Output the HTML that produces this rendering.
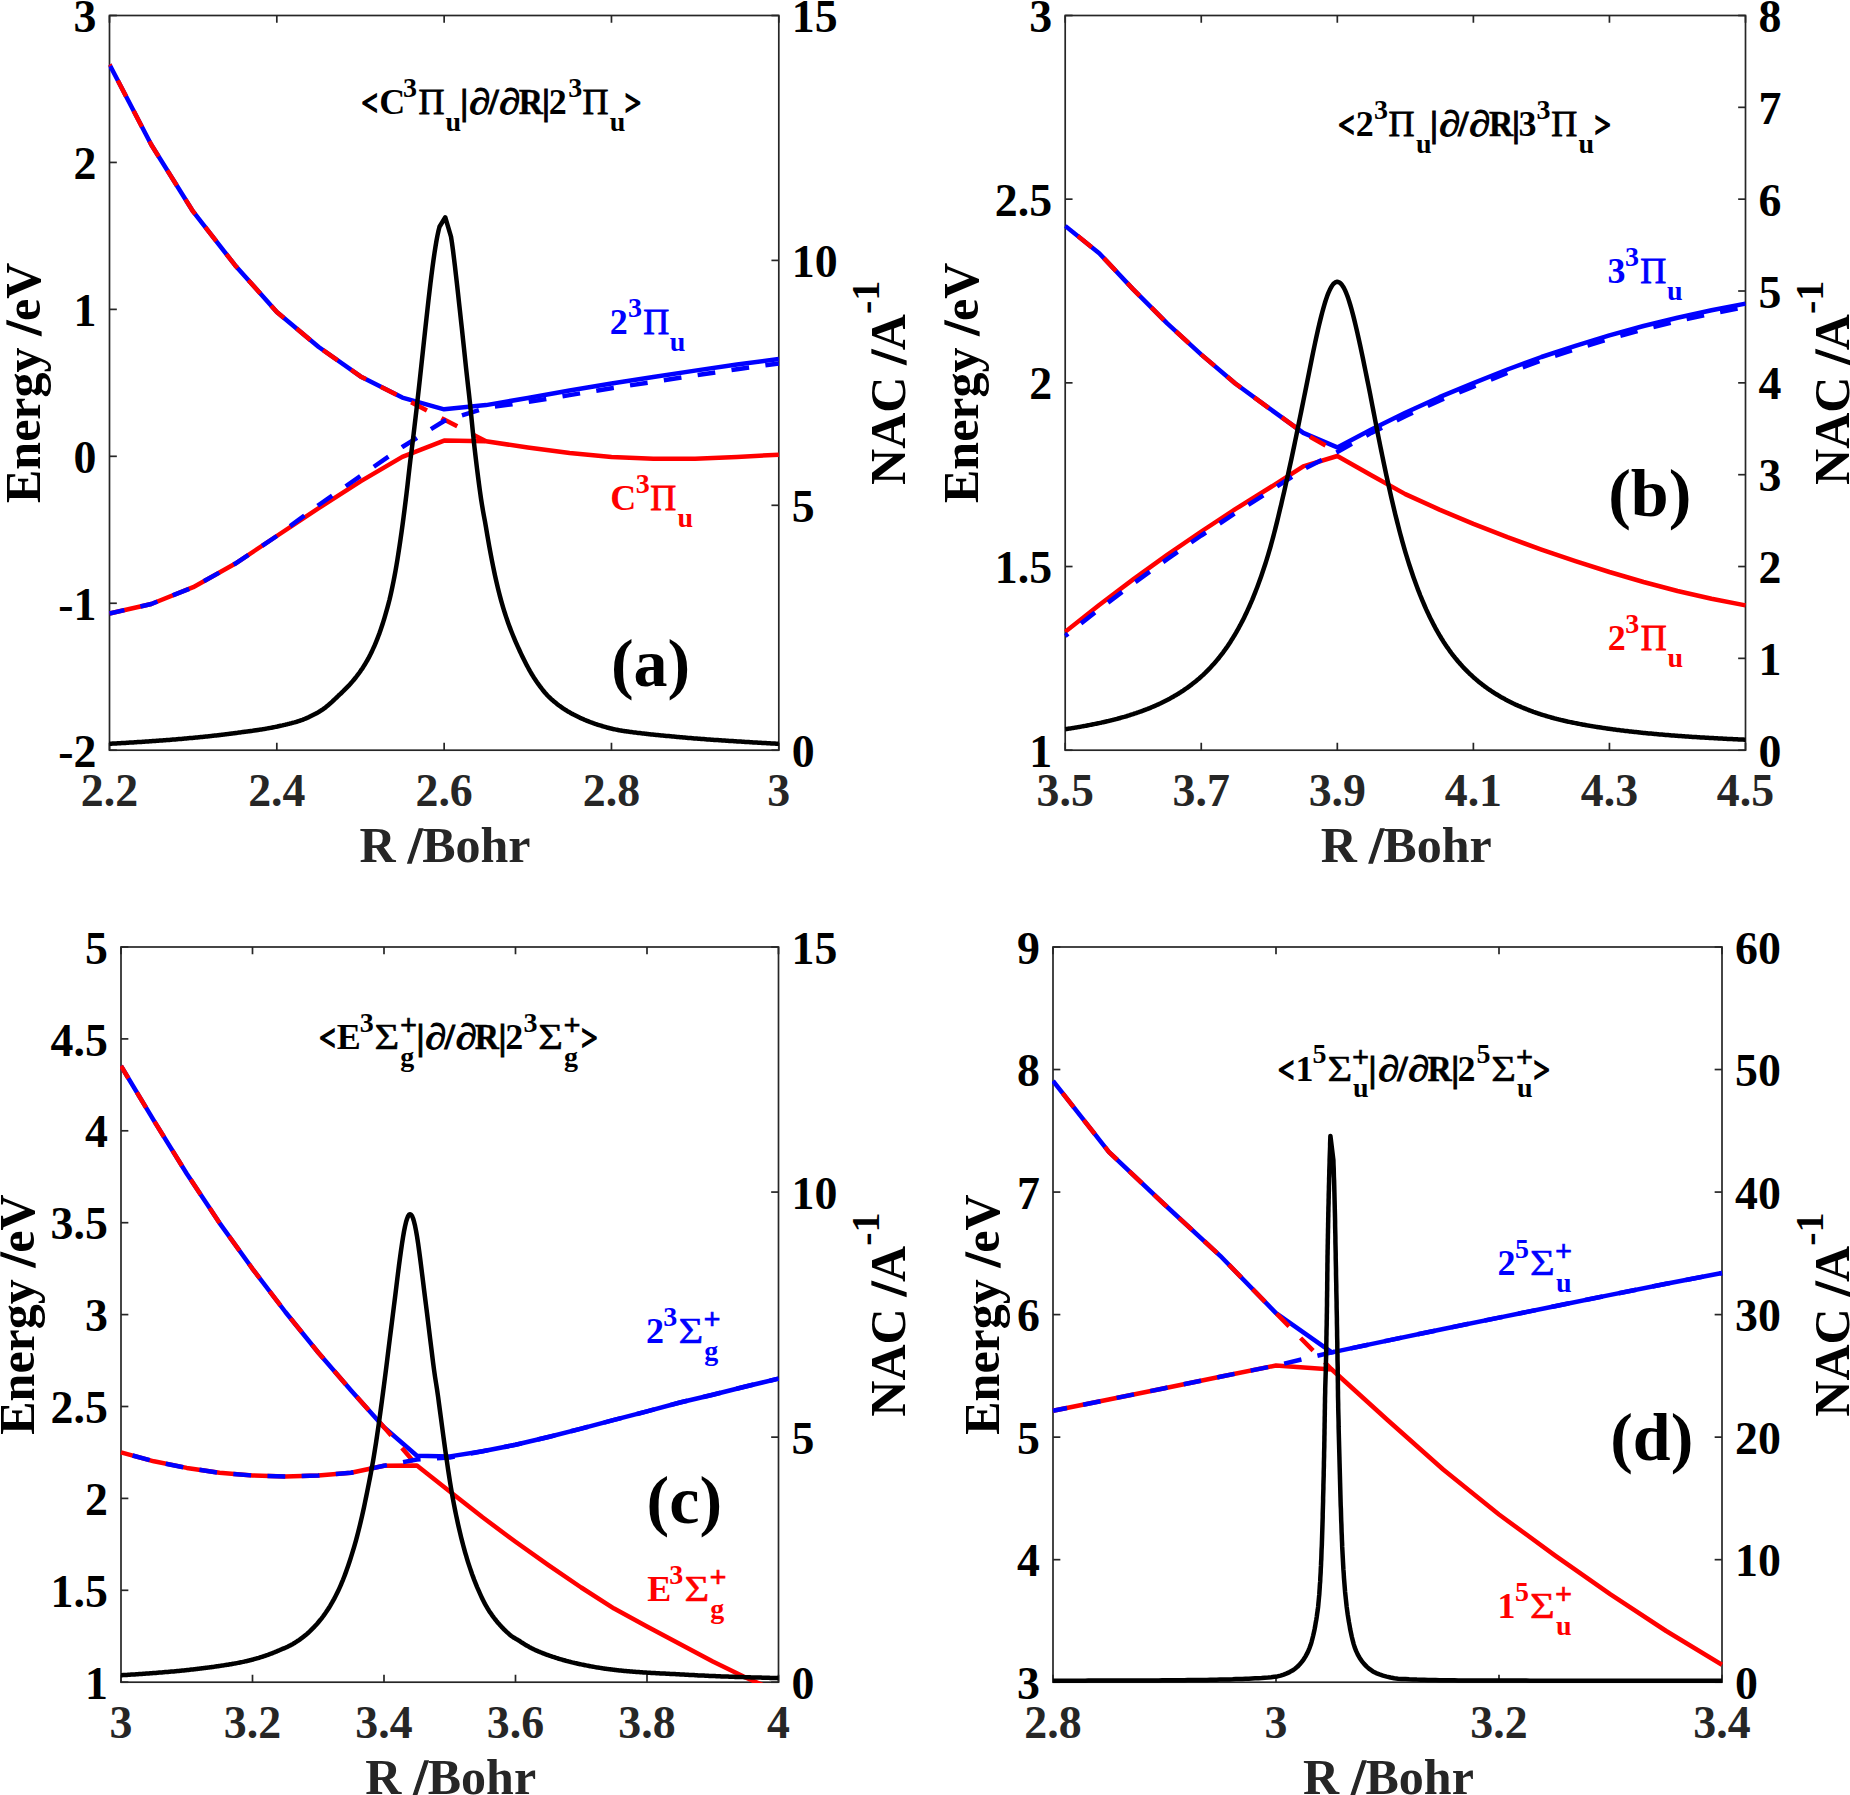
<!DOCTYPE html>
<html><head><meta charset="utf-8"><title>Potential energy curves and NAC</title>
<style>html,body{margin:0;padding:0;background:#fff}svg{display:block}text{font-family:"Liberation Serif",serif;white-space:pre}</style>
</head><body>
<svg xmlns="http://www.w3.org/2000/svg" width="1850" height="1795" viewBox="0 0 1850 1795">
<rect width="1850" height="1795" fill="#fff"/>
<clipPath id="clip0"><rect x="108.6" y="14.6" width="671.0999999999999" height="736.5"/></clipPath>
<g stroke="#262626" stroke-width="1.7" fill="none">
<rect x="109.5" y="15.5" width="669.3" height="734.7"/>
<path d="M109.50,750.2 v-7.35 M109.50,15.5 v7.35"/>
<path d="M276.82,750.2 v-7.35 M276.82,15.5 v7.35"/>
<path d="M444.15,750.2 v-7.35 M444.15,15.5 v7.35"/>
<path d="M611.47,750.2 v-7.35 M611.47,15.5 v7.35"/>
<path d="M778.80,750.2 v-7.35 M778.80,15.5 v7.35"/>
<path d="M109.5,750.20 h7.35"/>
<path d="M109.5,603.26 h7.35"/>
<path d="M109.5,456.32 h7.35"/>
<path d="M109.5,309.38 h7.35"/>
<path d="M109.5,162.44 h7.35"/>
<path d="M109.5,15.50 h7.35"/>
<path d="M778.8,750.20 h-7.35"/>
<path d="M778.8,505.30 h-7.35"/>
<path d="M778.8,260.40 h-7.35"/>
<path d="M778.8,15.50 h-7.35"/>
</g>
<g clip-path="url(#clip0)" fill="none" stroke-linejoin="round">
<path d="M109.5,64.6 L151.3,144.8 L193.2,211.7 L235.0,265.2 L276.8,312.0 L318.7,347.0 L360.5,376.4 L402.3,397.6 L444.1,409.3 L486.0,405.1 L527.8,398.0 L569.6,390.5 L611.5,383.5 L653.3,377.0 L695.1,370.6 L737.0,364.5 L778.8,359.0" stroke="#0000ff" stroke-width="4.5"/>
<path d="M109.5,613.5 L151.3,604.0 L193.2,587.2 L235.0,563.8 L276.8,536.0 L318.7,508.1 L360.5,481.4 L402.3,456.9 L444.1,440.6 L486.0,441.3 L527.8,447.5 L569.6,453.1 L611.5,456.9 L653.3,458.7 L695.1,458.7 L737.0,456.9 L778.8,454.7" stroke="#ff0000" stroke-width="4.5"/>
<path d="M109.5,64.6 L151.3,144.8 L193.2,211.7 L235.0,265.2 L276.8,312.0 L318.7,347.0 L360.5,376.4 L402.3,397.6 L444.1,419.5 L486.0,441.3" stroke="#ff0000" stroke-width="4.5" stroke-dasharray="17.8 16.4" stroke-dashoffset="16.2"/>
<path d="M109.5,613.5 L151.3,604.0 L193.2,587.2 L235.0,563.8 L276.8,536.0 L318.7,505.0 L360.5,476.0 L402.3,447.0 L444.1,421.0 L486.0,407.9 L527.8,402.0 L569.6,395.1 L611.5,388.2 L653.3,381.8 L695.1,375.4 L737.0,369.2 L778.8,363.5" stroke="#0000ff" stroke-width="4.5" stroke-dasharray="17.8 16.4" stroke-dashoffset="2.5"/>
</g>
<path d="M109.5,743.8 L110.5,743.7 L111.5,743.7 L112.5,743.6 L113.5,743.6 L114.5,743.5 L115.5,743.5 L116.5,743.4 L117.5,743.3 L118.5,743.3 L119.5,743.2 L120.5,743.2 L121.5,743.1 L122.5,743.1 L123.5,743.0 L124.5,742.9 L125.5,742.9 L126.5,742.8 L127.5,742.8 L128.5,742.7 L129.5,742.6 L130.5,742.6 L131.5,742.5 L132.5,742.5 L133.5,742.4 L134.5,742.3 L135.5,742.3 L136.5,742.2 L137.5,742.1 L138.5,742.1 L139.5,742.0 L140.5,741.9 L141.5,741.9 L142.5,741.8 L143.5,741.7 L144.5,741.7 L145.5,741.6 L146.5,741.5 L147.5,741.5 L148.5,741.4 L149.5,741.3 L150.5,741.3 L151.5,741.2 L152.5,741.1 L153.5,741.1 L154.5,741.0 L155.5,740.9 L156.5,740.8 L157.5,740.8 L158.5,740.7 L159.5,740.6 L160.5,740.6 L161.5,740.5 L162.5,740.4 L163.5,740.3 L164.5,740.2 L165.5,740.2 L166.5,740.1 L167.5,740.0 L168.5,739.9 L169.5,739.9 L170.5,739.8 L171.5,739.7 L172.5,739.6 L173.5,739.5 L174.5,739.5 L175.5,739.4 L176.5,739.3 L177.5,739.2 L178.5,739.1 L179.5,739.0 L180.5,738.9 L181.5,738.9 L182.5,738.8 L183.5,738.7 L184.5,738.6 L185.5,738.5 L186.5,738.4 L187.5,738.3 L188.5,738.2 L189.5,738.1 L190.5,738.0 L191.5,738.0 L192.5,737.9 L193.5,737.8 L194.5,737.7 L195.5,737.6 L196.5,737.5 L197.5,737.4 L198.5,737.3 L199.5,737.2 L200.5,737.1 L201.5,737.0 L202.5,736.9 L203.5,736.8 L204.5,736.7 L205.5,736.6 L206.5,736.5 L207.5,736.4 L208.5,736.3 L209.5,736.2 L210.5,736.1 L211.5,735.9 L212.5,735.8 L213.5,735.7 L214.5,735.6 L215.5,735.5 L216.5,735.4 L217.5,735.3 L218.5,735.2 L219.5,735.0 L220.5,734.9 L221.5,734.8 L222.5,734.7 L223.5,734.6 L224.5,734.4 L225.5,734.3 L226.5,734.2 L227.5,734.1 L228.5,733.9 L229.5,733.8 L230.5,733.7 L231.5,733.5 L232.5,733.4 L233.5,733.3 L234.5,733.2 L235.5,733.0 L236.5,732.9 L237.5,732.8 L238.5,732.6 L239.5,732.5 L240.5,732.4 L241.5,732.2 L242.5,732.1 L243.5,732.0 L244.5,731.8 L245.5,731.7 L246.5,731.6 L247.5,731.4 L248.5,731.3 L249.5,731.2 L250.5,731.0 L251.5,730.9 L252.5,730.8 L253.5,730.6 L254.5,730.5 L255.5,730.3 L256.5,730.2 L257.5,730.0 L258.5,729.9 L259.5,729.7 L260.5,729.6 L261.5,729.4 L262.5,729.3 L263.5,729.1 L264.5,728.9 L265.5,728.8 L266.5,728.6 L267.5,728.4 L268.5,728.2 L269.5,728.1 L270.5,727.9 L271.5,727.7 L272.5,727.5 L273.5,727.3 L274.5,727.1 L275.5,726.9 L276.5,726.7 L277.5,726.5 L278.5,726.2 L279.5,726.0 L280.5,725.8 L281.5,725.6 L282.5,725.4 L283.5,725.1 L284.5,724.9 L285.5,724.7 L286.5,724.4 L287.5,724.2 L288.5,723.9 L289.5,723.7 L290.5,723.4 L291.5,723.2 L292.5,722.9 L293.5,722.6 L294.5,722.4 L295.5,722.1 L296.5,721.8 L297.5,721.5 L298.5,721.1 L299.5,720.8 L300.5,720.5 L301.5,720.1 L302.5,719.8 L303.5,719.4 L304.5,719.0 L305.5,718.6 L306.5,718.2 L307.5,717.7 L308.5,717.3 L309.5,716.8 L310.5,716.3 L311.5,715.8 L312.5,715.3 L313.5,714.8 L314.5,714.3 L315.5,713.8 L316.5,713.2 L317.5,712.7 L318.5,712.1 L319.5,711.5 L320.5,710.9 L321.5,710.2 L322.5,709.6 L323.5,708.9 L324.5,708.2 L325.5,707.4 L326.5,706.6 L327.5,705.8 L328.5,704.9 L329.5,704.1 L330.5,703.2 L331.5,702.3 L332.5,701.4 L333.5,700.4 L334.5,699.5 L335.5,698.5 L336.5,697.6 L337.5,696.6 L338.5,695.7 L339.5,694.7 L340.5,693.8 L341.5,692.8 L342.5,691.8 L343.5,690.9 L344.5,689.9 L345.5,688.9 L346.5,687.9 L347.5,686.9 L348.5,685.8 L349.5,684.8 L350.5,683.7 L351.5,682.6 L352.5,681.4 L353.5,680.2 L354.5,679.0 L355.5,677.8 L356.5,676.5 L357.5,675.2 L358.5,673.8 L359.5,672.5 L360.5,671.1 L361.5,669.6 L362.5,668.2 L363.5,666.6 L364.5,665.1 L365.5,663.4 L366.5,661.7 L367.5,660.0 L368.5,658.2 L369.5,656.2 L370.5,654.3 L371.5,652.2 L372.5,650.1 L373.5,647.9 L374.5,645.7 L375.5,643.3 L376.5,640.9 L377.5,638.4 L378.5,635.8 L379.5,633.1 L380.5,630.2 L381.5,627.3 L382.5,624.2 L383.5,621.1 L384.5,617.8 L385.5,614.4 L386.5,610.9 L387.5,607.3 L388.5,603.6 L389.5,599.7 L390.5,595.4 L391.5,591.0 L392.5,586.3 L393.5,581.4 L394.5,576.3 L395.5,570.9 L396.5,565.2 L397.5,559.1 L398.5,552.7 L399.5,546.1 L400.5,539.4 L401.5,532.4 L402.5,525.1 L403.5,517.6 L404.5,509.9 L405.5,501.9 L406.5,493.7 L407.5,485.2 L408.5,476.2 L409.5,467.4 L410.5,459.1 L411.5,451.3 L412.5,443.2 L413.5,435.0 L414.5,426.6 L415.5,418.1 L416.5,409.4 L417.5,400.5 L418.5,391.6 L419.5,382.5 L420.5,373.3 L421.5,364.1 L422.5,354.8 L423.5,345.6 L424.5,336.3 L425.5,327.1 L426.5,318.0 L427.5,309.0 L428.5,300.1 L429.5,291.5 L430.5,283.1 L431.5,275.0 L432.5,267.3 L433.5,259.9 L434.5,253.0 L435.5,246.6 L436.5,240.7 L437.5,235.4 L438.5,230.7 L439.5,226.7 L445.3,217.3 L451.0,236.7 L452.0,243.1 L453.0,250.4 L454.0,258.5 L455.0,266.8 L456.0,275.4 L457.0,284.2 L458.0,293.2 L459.0,302.4 L460.0,311.5 L461.0,320.7 L462.0,329.8 L463.0,339.2 L464.0,348.6 L465.0,358.0 L466.0,367.4 L467.0,376.6 L468.0,385.5 L469.0,394.3 L470.0,403.5 L471.0,413.2 L472.0,423.3 L473.0,433.4 L474.0,443.0 L475.0,451.8 L476.0,460.3 L477.0,468.5 L478.0,476.4 L479.0,484.1 L480.0,491.5 L481.0,498.6 L482.0,504.9 L483.0,510.8 L484.0,516.3 L485.0,521.7 L486.0,527.4 L487.0,533.3 L488.0,539.2 L489.0,544.8 L490.0,550.4 L491.0,555.7 L492.0,560.9 L493.0,565.9 L494.0,570.8 L495.0,575.4 L496.0,580.0 L497.0,584.3 L498.0,588.5 L499.0,592.5 L500.0,596.4 L501.0,600.1 L502.0,603.6 L503.0,607.1 L504.0,610.4 L505.0,613.5 L506.0,616.6 L507.0,619.5 L508.0,622.4 L509.0,625.2 L510.0,627.9 L511.0,630.5 L512.0,633.0 L513.0,635.5 L514.0,637.9 L515.0,640.3 L516.0,642.6 L517.0,644.9 L518.0,647.1 L519.0,649.3 L520.0,651.5 L521.0,653.6 L522.0,655.7 L523.0,657.8 L524.0,659.8 L525.0,661.8 L526.0,663.8 L527.0,665.7 L528.0,667.5 L529.0,669.3 L530.0,671.1 L531.0,672.8 L532.0,674.5 L533.0,676.1 L534.0,677.7 L535.0,679.2 L536.0,680.7 L537.0,682.2 L538.0,683.6 L539.0,685.0 L540.0,686.4 L541.0,687.7 L542.0,689.0 L543.0,690.3 L544.0,691.5 L545.0,692.7 L546.0,693.8 L547.0,694.9 L548.0,696.0 L549.0,697.0 L550.0,697.9 L551.0,698.9 L552.0,699.8 L553.0,700.6 L554.0,701.5 L555.0,702.3 L556.0,703.1 L557.0,703.9 L558.0,704.7 L559.0,705.5 L560.0,706.2 L561.0,706.9 L562.0,707.6 L563.0,708.3 L564.0,709.0 L565.0,709.6 L566.0,710.2 L567.0,710.9 L568.0,711.5 L569.0,712.1 L570.0,712.6 L571.0,713.2 L572.0,713.7 L573.0,714.3 L574.0,714.8 L575.0,715.3 L576.0,715.8 L577.0,716.3 L578.0,716.8 L579.0,717.3 L580.0,717.8 L581.0,718.2 L582.0,718.7 L583.0,719.1 L584.0,719.6 L585.0,720.0 L586.0,720.4 L587.0,720.8 L588.0,721.2 L589.0,721.6 L590.0,722.0 L591.0,722.4 L592.0,722.7 L593.0,723.1 L594.0,723.4 L595.0,723.8 L596.0,724.1 L597.0,724.5 L598.0,724.8 L599.0,725.1 L600.0,725.4 L601.0,725.7 L602.0,726.0 L603.0,726.3 L604.0,726.6 L605.0,726.9 L606.0,727.2 L607.0,727.5 L608.0,727.7 L609.0,728.0 L610.0,728.3 L611.0,728.5 L612.0,728.7 L613.0,729.0 L614.0,729.2 L615.0,729.4 L616.0,729.6 L617.0,729.8 L618.0,730.0 L619.0,730.2 L620.0,730.4 L621.0,730.5 L622.0,730.7 L623.0,730.9 L624.0,731.0 L625.0,731.2 L626.0,731.3 L627.0,731.5 L628.0,731.6 L629.0,731.7 L630.0,731.9 L631.0,732.0 L632.0,732.1 L633.0,732.3 L634.0,732.4 L635.0,732.5 L636.0,732.6 L637.0,732.8 L638.0,732.9 L639.0,733.0 L640.0,733.1 L641.0,733.2 L642.0,733.4 L643.0,733.5 L644.0,733.6 L645.0,733.7 L646.0,733.8 L647.0,734.0 L648.0,734.1 L649.0,734.2 L650.0,734.3 L651.0,734.4 L652.0,734.5 L653.0,734.6 L654.0,734.7 L655.0,734.8 L656.0,734.9 L657.0,735.0 L658.0,735.1 L659.0,735.2 L660.0,735.3 L661.0,735.4 L662.0,735.5 L663.0,735.6 L664.0,735.7 L665.0,735.8 L666.0,735.9 L667.0,736.0 L668.0,736.0 L669.0,736.1 L670.0,736.2 L671.0,736.3 L672.0,736.4 L673.0,736.5 L674.0,736.6 L675.0,736.7 L676.0,736.8 L677.0,736.9 L678.0,737.0 L679.0,737.1 L680.0,737.2 L681.0,737.2 L682.0,737.3 L683.0,737.4 L684.0,737.5 L685.0,737.6 L686.0,737.7 L687.0,737.8 L688.0,737.9 L689.0,738.0 L690.0,738.0 L691.0,738.1 L692.0,738.2 L693.0,738.3 L694.0,738.4 L695.0,738.5 L696.0,738.5 L697.0,738.6 L698.0,738.7 L699.0,738.8 L700.0,738.8 L701.0,738.9 L702.0,739.0 L703.0,739.1 L704.0,739.1 L705.0,739.2 L706.0,739.3 L707.0,739.4 L708.0,739.4 L709.0,739.5 L710.0,739.6 L711.0,739.7 L712.0,739.7 L713.0,739.8 L714.0,739.9 L715.0,739.9 L716.0,740.0 L717.0,740.1 L718.0,740.1 L719.0,740.2 L720.0,740.3 L721.0,740.3 L722.0,740.4 L723.0,740.5 L724.0,740.5 L725.0,740.6 L726.0,740.7 L727.0,740.7 L728.0,740.8 L729.0,740.9 L730.0,740.9 L731.0,741.0 L732.0,741.1 L733.0,741.1 L734.0,741.2 L735.0,741.2 L736.0,741.3 L737.0,741.4 L738.0,741.4 L739.0,741.5 L740.0,741.6 L741.0,741.6 L742.0,741.7 L743.0,741.7 L744.0,741.8 L745.0,741.9 L746.0,741.9 L747.0,742.0 L748.0,742.0 L749.0,742.1 L750.0,742.2 L751.0,742.2 L752.0,742.3 L753.0,742.4 L754.0,742.4 L755.0,742.5 L756.0,742.5 L757.0,742.6 L758.0,742.7 L759.0,742.7 L760.0,742.8 L761.0,742.8 L762.0,742.9 L763.0,742.9 L764.0,743.0 L765.0,743.1 L766.0,743.1 L767.0,743.2 L768.0,743.2 L769.0,743.3 L770.0,743.3 L771.0,743.4 L772.0,743.5 L773.0,743.5 L774.0,743.6 L775.0,743.6 L776.0,743.7 L777.0,743.7 L778.0,743.8 L778.8,743.8" fill="none" stroke="#000" stroke-width="4.5" stroke-linejoin="round" clip-path="url(#clip0)"/>
<text x="109.50" y="805.80" font-size="45.83" font-weight="bold" fill="#262626" text-anchor="middle" >2.2</text>
<text x="276.82" y="805.80" font-size="45.83" font-weight="bold" fill="#262626" text-anchor="middle" >2.4</text>
<text x="444.15" y="805.80" font-size="45.83" font-weight="bold" fill="#262626" text-anchor="middle" >2.6</text>
<text x="611.47" y="805.80" font-size="45.83" font-weight="bold" fill="#262626" text-anchor="middle" >2.8</text>
<text x="778.80" y="805.80" font-size="45.83" font-weight="bold" fill="#262626" text-anchor="middle" >3</text>
<text x="96.40" y="766.80" font-size="45.83" font-weight="bold" fill="#000" text-anchor="end" >-2</text>
<text x="96.40" y="619.86" font-size="45.83" font-weight="bold" fill="#000" text-anchor="end" >-1</text>
<text x="96.40" y="472.92" font-size="45.83" font-weight="bold" fill="#000" text-anchor="end" >0</text>
<text x="96.40" y="325.98" font-size="45.83" font-weight="bold" fill="#000" text-anchor="end" >1</text>
<text x="96.40" y="179.04" font-size="45.83" font-weight="bold" fill="#000" text-anchor="end" >2</text>
<text x="96.40" y="32.10" font-size="45.83" font-weight="bold" fill="#000" text-anchor="end" >3</text>
<text x="791.80" y="766.80" font-size="45.83" font-weight="bold" fill="#000" text-anchor="start" >0</text>
<text x="791.80" y="521.90" font-size="45.83" font-weight="bold" fill="#000" text-anchor="start" >5</text>
<text x="791.80" y="277.00" font-size="45.83" font-weight="bold" fill="#000" text-anchor="start" >10</text>
<text x="791.80" y="32.10" font-size="45.83" font-weight="bold" fill="#000" text-anchor="start" >15</text>
<text x="445.05" y="862.20" font-size="50" font-weight="bold" fill="#262626" text-anchor="middle" >R <tspan stroke="#262626" stroke-width="1.3">/</tspan>Bohr</text>
<text transform="translate(40.400000000000006,382.85) rotate(-90)" font-size="50" font-weight="bold" fill="#000" text-anchor="middle">Energy <tspan stroke="#000" stroke-width="1.3">/</tspan>eV</text>
<text transform="translate(905.4,382.85) rotate(-90)" font-size="50" font-weight="bold" fill="#000" text-anchor="middle">NAC <tspan stroke="#000" stroke-width="1.3">/</tspan>A<tspan font-size="40" dy="-26">-1</tspan></text>
<text x="610.90" y="686.40" font-size="68" font-weight="bold" fill="#000" text-anchor="start" >(a)</text>
<text transform="translate(361.42 114.80) scale(0.8 1)" font-size="36" font-weight="bold" fill="#000" stroke="#000" stroke-width="1.5" stroke-linejoin="miter">&lt;</text>
<text x="379.24" y="113.80" font-size="36" font-weight="bold" fill="#000">C</text>
<text x="403.05" y="96.50" font-size="28" font-weight="bold" fill="#000">3</text>
<text x="418.46" y="113.80" font-size="36" font-weight="normal" fill="#000" stroke="#000" stroke-width="0.8" stroke-linejoin="miter">Π</text>
<text x="445.38" y="130.60" font-size="28" font-weight="bold" fill="#000">u</text>
<text x="460.29" y="113.80" font-size="36" font-weight="bold" fill="#000" stroke="#000" stroke-width="1.0" stroke-linejoin="miter">|</text>
<text transform="translate(469.34 113.80) scale(1.18 1)" font-size="36" font-weight="normal" font-style="italic" fill="#000" stroke="#000" stroke-width="1.1" stroke-linejoin="miter">∂</text>
<text x="488.45" y="113.80" font-size="36" font-weight="bold" fill="#000" stroke="#000" stroke-width="1.0" stroke-linejoin="miter">/</text>
<text transform="translate(499.14 113.80) scale(1.18 1)" font-size="36" font-weight="normal" font-style="italic" fill="#000" stroke="#000" stroke-width="1.1" stroke-linejoin="miter">∂</text>
<text transform="translate(518.78 113.80) scale(0.93 1)" font-size="36" font-weight="bold" fill="#000" stroke="#000" stroke-width="0.5" stroke-linejoin="miter">R</text>
<text x="541.99" y="113.80" font-size="36" font-weight="bold" fill="#000" stroke="#000" stroke-width="1.0" stroke-linejoin="miter">|</text>
<text x="548.69" y="113.80" font-size="36" font-weight="bold" fill="#000">2</text>
<text x="568.15" y="96.50" font-size="28" font-weight="bold" fill="#000">3</text>
<text x="582.46" y="113.80" font-size="36" font-weight="normal" fill="#000" stroke="#000" stroke-width="0.8" stroke-linejoin="miter">Π</text>
<text x="609.78" y="130.60" font-size="28" font-weight="bold" fill="#000">u</text>
<text transform="translate(624.79 114.80) scale(0.8 1)" font-size="36" font-weight="bold" fill="#000" stroke="#000" stroke-width="1.5" stroke-linejoin="miter">&gt;</text>
<text x="609.69" y="333.80" font-size="36" font-weight="bold" fill="#0000ff">2</text>
<text x="628.05" y="316.50" font-size="28" font-weight="bold" fill="#0000ff">3</text>
<text x="643.36" y="333.80" font-size="36" font-weight="normal" fill="#0000ff" stroke="#0000ff" stroke-width="0.8" stroke-linejoin="miter">Π</text>
<text x="669.78" y="350.60" font-size="28" font-weight="bold" fill="#0000ff">u</text>
<text x="610.24" y="510.10" font-size="36" font-weight="bold" fill="#ff0000">C</text>
<text x="635.85" y="492.80" font-size="28" font-weight="bold" fill="#ff0000">3</text>
<text x="650.36" y="510.10" font-size="36" font-weight="normal" fill="#ff0000" stroke="#ff0000" stroke-width="0.8" stroke-linejoin="miter">Π</text>
<text x="677.58" y="526.90" font-size="28" font-weight="bold" fill="#ff0000">u</text>
<clipPath id="clip1"><rect x="1064.3" y="14.6" width="682.0999999999999" height="736.5"/></clipPath>
<g stroke="#262626" stroke-width="1.7" fill="none">
<rect x="1065.2" y="15.5" width="680.3" height="734.7"/>
<path d="M1065.20,750.2 v-7.35 M1065.20,15.5 v7.35"/>
<path d="M1201.26,750.2 v-7.35 M1201.26,15.5 v7.35"/>
<path d="M1337.32,750.2 v-7.35 M1337.32,15.5 v7.35"/>
<path d="M1473.38,750.2 v-7.35 M1473.38,15.5 v7.35"/>
<path d="M1609.44,750.2 v-7.35 M1609.44,15.5 v7.35"/>
<path d="M1745.50,750.2 v-7.35 M1745.50,15.5 v7.35"/>
<path d="M1065.2,750.20 h7.35"/>
<path d="M1065.2,566.53 h7.35"/>
<path d="M1065.2,382.85 h7.35"/>
<path d="M1065.2,199.17 h7.35"/>
<path d="M1065.2,15.50 h7.35"/>
<path d="M1745.5,750.20 h-7.35"/>
<path d="M1745.5,658.36 h-7.35"/>
<path d="M1745.5,566.53 h-7.35"/>
<path d="M1745.5,474.69 h-7.35"/>
<path d="M1745.5,382.85 h-7.35"/>
<path d="M1745.5,291.01 h-7.35"/>
<path d="M1745.5,199.17 h-7.35"/>
<path d="M1745.5,107.34 h-7.35"/>
<path d="M1745.5,15.50 h-7.35"/>
</g>
<g clip-path="url(#clip1)" fill="none" stroke-linejoin="round">
<path d="M1065.2,225.9 L1099.2,253.2 L1133.2,289.4 L1167.2,323.4 L1201.3,354.6 L1235.3,383.5 L1269.3,408.4 L1303.3,432.9 L1337.3,447.4 L1371.3,429.5 L1405.3,412.8 L1439.4,397.2 L1473.4,383.2 L1507.4,369.5 L1541.4,357.0 L1575.4,345.8 L1609.4,335.4 L1643.5,326.0 L1677.5,317.7 L1711.5,310.3 L1745.5,303.6" stroke="#0000ff" stroke-width="4.5"/>
<path d="M1065.2,631.8 L1099.2,605.0 L1133.2,579.4 L1167.2,554.9 L1201.3,531.5 L1235.3,509.2 L1269.3,488.0 L1303.3,466.4 L1337.3,456.0 L1371.3,475.2 L1405.3,494.1 L1439.4,509.6 L1473.4,523.9 L1507.4,537.2 L1541.4,549.6 L1575.4,561.2 L1609.4,572.0 L1643.5,582.0 L1677.5,591.0 L1711.5,598.8 L1745.5,605.4" stroke="#ff0000" stroke-width="4.5"/>
<path d="M1065.2,225.9 L1099.2,253.2 L1133.2,289.4 L1167.2,323.4 L1201.3,354.6 L1235.3,383.5 L1269.3,408.4 L1303.3,432.9 L1337.3,452.0" stroke="#ff0000" stroke-width="4.5" stroke-dasharray="17.8 16.4" stroke-dashoffset="18.0"/>
<path d="M1065.2,636.0 L1099.2,609.2 L1133.2,583.6 L1167.2,559.1 L1201.3,535.5 L1235.3,513.2 L1269.3,491.5 L1303.3,469.4 L1337.3,452.0 L1371.3,432.9 L1405.3,416.2 L1439.4,400.6 L1473.4,386.6 L1507.4,372.9 L1541.4,360.4 L1575.4,349.2 L1609.4,338.8 L1643.5,329.4 L1677.5,321.1 L1711.5,313.7 L1745.5,307.0" stroke="#0000ff" stroke-width="4.5" stroke-dasharray="17.8 16.4" stroke-dashoffset="14.1"/>
</g>
<path d="M1065.2,729.2 L1066.2,729.0 L1067.2,728.9 L1068.2,728.7 L1069.2,728.6 L1070.2,728.4 L1071.2,728.3 L1072.2,728.1 L1073.2,727.9 L1074.2,727.8 L1075.2,727.6 L1076.2,727.4 L1077.2,727.3 L1078.2,727.1 L1079.2,726.9 L1080.2,726.8 L1081.2,726.6 L1082.2,726.4 L1083.2,726.2 L1084.2,726.1 L1085.2,725.9 L1086.2,725.7 L1087.2,725.5 L1088.2,725.3 L1089.2,725.1 L1090.2,724.9 L1091.2,724.7 L1092.2,724.5 L1093.2,724.3 L1094.2,724.1 L1095.2,723.9 L1096.2,723.7 L1097.2,723.5 L1098.2,723.3 L1099.2,723.1 L1100.2,722.9 L1101.2,722.7 L1102.2,722.4 L1103.2,722.2 L1104.2,722.0 L1105.2,721.8 L1106.2,721.5 L1107.2,721.3 L1108.2,721.1 L1109.2,720.8 L1110.2,720.6 L1111.2,720.3 L1112.2,720.1 L1113.2,719.8 L1114.2,719.6 L1115.2,719.3 L1116.2,719.1 L1117.2,718.8 L1118.2,718.5 L1119.2,718.3 L1120.2,718.0 L1121.2,717.7 L1122.2,717.4 L1123.2,717.1 L1124.2,716.9 L1125.2,716.6 L1126.2,716.3 L1127.2,716.0 L1128.2,715.7 L1129.2,715.4 L1130.2,715.0 L1131.2,714.7 L1132.2,714.4 L1133.2,714.1 L1134.2,713.7 L1135.2,713.4 L1136.2,713.1 L1137.2,712.7 L1138.2,712.4 L1139.2,712.0 L1140.2,711.7 L1141.2,711.3 L1142.2,711.0 L1143.2,710.6 L1144.2,710.2 L1145.2,709.8 L1146.2,709.4 L1147.2,709.1 L1148.2,708.7 L1149.2,708.3 L1150.2,707.9 L1151.2,707.4 L1152.2,707.0 L1153.2,706.6 L1154.2,706.2 L1155.2,705.7 L1156.2,705.3 L1157.2,704.8 L1158.2,704.4 L1159.2,703.9 L1160.2,703.5 L1161.2,703.0 L1162.2,702.5 L1163.2,702.0 L1164.2,701.5 L1165.2,701.0 L1166.2,700.5 L1167.2,700.0 L1168.2,699.5 L1169.2,698.9 L1170.2,698.4 L1171.2,697.8 L1172.2,697.3 L1173.2,696.7 L1174.2,696.1 L1175.2,695.6 L1176.2,695.0 L1177.2,694.4 L1178.2,693.8 L1179.2,693.1 L1180.2,692.5 L1181.2,691.9 L1182.2,691.2 L1183.2,690.6 L1184.2,689.9 L1185.2,689.2 L1186.2,688.5 L1187.2,687.8 L1188.2,687.1 L1189.2,686.4 L1190.2,685.6 L1191.2,684.9 L1192.2,684.1 L1193.2,683.3 L1194.2,682.5 L1195.2,681.7 L1196.2,680.9 L1197.2,680.1 L1198.2,679.2 L1199.2,678.4 L1200.2,677.5 L1201.2,676.6 L1202.2,675.7 L1203.2,674.8 L1204.2,673.8 L1205.2,672.9 L1206.2,671.9 L1207.2,670.9 L1208.2,669.9 L1209.2,668.8 L1210.2,667.8 L1211.2,666.7 L1212.2,665.6 L1213.2,664.5 L1214.2,663.4 L1215.2,662.3 L1216.2,661.1 L1217.2,659.9 L1218.2,658.7 L1219.2,657.5 L1220.2,656.2 L1221.2,654.9 L1222.2,653.6 L1223.2,652.3 L1224.2,650.9 L1225.2,649.5 L1226.2,648.1 L1227.2,646.7 L1228.2,645.2 L1229.2,643.7 L1230.2,642.2 L1231.2,640.6 L1232.2,639.1 L1233.2,637.4 L1234.2,635.8 L1235.2,634.1 L1236.2,632.4 L1237.2,630.6 L1238.2,628.9 L1239.2,627.0 L1240.2,625.2 L1241.2,623.3 L1242.2,621.4 L1243.2,619.4 L1244.2,617.4 L1245.2,615.3 L1246.2,613.2 L1247.2,611.1 L1248.2,608.9 L1249.2,606.7 L1250.2,604.4 L1251.2,602.1 L1252.2,599.8 L1253.2,597.3 L1254.2,594.9 L1255.2,592.4 L1256.2,589.8 L1257.2,587.2 L1258.2,584.5 L1259.2,581.8 L1260.2,579.0 L1261.2,576.2 L1262.2,573.3 L1263.2,570.3 L1264.2,567.3 L1265.2,564.2 L1266.2,561.1 L1267.2,557.9 L1268.2,554.6 L1269.2,551.2 L1270.2,547.8 L1271.2,544.2 L1272.2,540.5 L1273.2,536.8 L1274.2,533.0 L1275.2,529.1 L1276.2,525.1 L1277.2,521.1 L1278.2,517.0 L1279.2,512.8 L1280.2,508.6 L1281.2,504.4 L1282.2,500.1 L1283.2,495.8 L1284.2,491.4 L1285.2,487.0 L1286.2,482.6 L1287.2,478.2 L1288.2,473.7 L1289.2,469.1 L1290.2,464.5 L1291.2,459.9 L1292.2,455.2 L1293.2,450.5 L1294.2,445.7 L1295.2,440.9 L1296.2,436.1 L1297.2,431.2 L1298.2,426.2 L1299.2,421.3 L1300.2,416.4 L1301.2,411.5 L1302.2,406.5 L1303.2,401.6 L1304.2,396.6 L1305.2,391.7 L1306.2,386.7 L1307.2,381.7 L1308.2,376.7 L1309.2,371.7 L1310.2,366.7 L1311.2,361.7 L1312.2,356.8 L1313.2,351.9 L1314.2,347.1 L1315.2,342.4 L1316.2,337.8 L1317.2,333.3 L1318.2,328.8 L1319.2,324.5 L1320.2,320.4 L1321.2,316.4 L1322.2,312.5 L1323.2,308.8 L1324.2,305.3 L1325.2,302.0 L1326.2,298.9 L1327.2,296.1 L1328.2,293.4 L1329.2,291.1 L1330.2,289.0 L1331.2,287.1 L1332.2,285.5 L1333.2,284.2 L1334.2,283.2 L1335.2,282.4 L1336.2,282.0 L1337.2,281.8 L1337.3,281.8 L1338.3,281.9 L1339.3,282.4 L1340.3,283.1 L1341.3,284.1 L1342.3,285.4 L1343.3,286.9 L1344.3,288.8 L1345.3,290.8 L1346.3,293.2 L1347.3,295.8 L1348.3,298.6 L1349.3,301.7 L1350.3,305.0 L1351.3,308.4 L1352.3,312.1 L1353.3,315.9 L1354.3,319.9 L1355.3,324.0 L1356.3,328.2 L1357.3,332.5 L1358.3,337.0 L1359.3,341.5 L1360.3,346.1 L1361.3,350.8 L1362.3,355.5 L1363.3,360.3 L1364.3,365.2 L1365.3,370.1 L1366.3,375.0 L1367.3,380.0 L1368.3,384.9 L1369.3,389.9 L1370.3,394.9 L1371.3,400.1 L1372.3,405.3 L1373.3,410.5 L1374.3,415.6 L1375.3,420.8 L1376.3,425.9 L1377.3,431.0 L1378.3,436.1 L1379.3,441.1 L1380.3,446.1 L1381.3,451.0 L1382.3,455.9 L1383.3,460.8 L1384.3,465.5 L1385.3,470.3 L1386.3,474.9 L1387.3,479.5 L1388.3,484.1 L1389.3,488.6 L1390.3,493.0 L1391.3,497.4 L1392.3,501.8 L1393.3,506.0 L1394.3,510.2 L1395.3,514.4 L1396.3,518.4 L1397.3,522.4 L1398.3,526.3 L1399.3,530.2 L1400.3,534.0 L1401.3,537.7 L1402.3,541.3 L1403.3,544.9 L1404.3,548.4 L1405.3,551.8 L1406.3,555.1 L1407.3,558.4 L1408.3,561.6 L1409.3,564.7 L1410.3,567.8 L1411.3,570.8 L1412.3,573.8 L1413.3,576.7 L1414.3,579.5 L1415.3,582.3 L1416.3,585.0 L1417.3,587.7 L1418.3,590.4 L1419.3,592.9 L1420.3,595.5 L1421.3,597.9 L1422.3,600.3 L1423.3,602.7 L1424.3,605.0 L1425.3,607.3 L1426.3,609.6 L1427.3,611.7 L1428.3,613.9 L1429.3,616.0 L1430.3,618.1 L1431.3,620.1 L1432.3,622.1 L1433.3,624.0 L1434.3,625.9 L1435.3,627.8 L1436.3,629.6 L1437.3,631.4 L1438.3,633.1 L1439.3,634.9 L1440.3,636.5 L1441.3,638.2 L1442.3,639.8 L1443.3,641.4 L1444.3,642.9 L1445.3,644.5 L1446.3,645.9 L1447.3,647.4 L1448.3,648.8 L1449.3,650.2 L1450.3,651.6 L1451.3,653.0 L1452.3,654.3 L1453.3,655.6 L1454.3,656.8 L1455.3,658.1 L1456.3,659.3 L1457.3,660.5 L1458.3,661.7 L1459.3,662.8 L1460.3,664.0 L1461.3,665.1 L1462.3,666.2 L1463.3,667.3 L1464.3,668.3 L1465.3,669.4 L1466.3,670.4 L1467.3,671.4 L1468.3,672.4 L1469.3,673.3 L1470.3,674.3 L1471.3,675.2 L1472.3,676.2 L1473.3,677.1 L1474.3,678.0 L1475.3,678.8 L1476.3,679.7 L1477.3,680.5 L1478.3,681.4 L1479.3,682.2 L1480.3,683.0 L1481.3,683.8 L1482.3,684.6 L1483.3,685.3 L1484.3,686.1 L1485.3,686.8 L1486.3,687.5 L1487.3,688.3 L1488.3,689.0 L1489.3,689.7 L1490.3,690.3 L1491.3,691.0 L1492.3,691.7 L1493.3,692.3 L1494.3,693.0 L1495.3,693.6 L1496.3,694.2 L1497.3,694.8 L1498.3,695.4 L1499.3,696.0 L1500.3,696.6 L1501.3,697.2 L1502.3,697.7 L1503.3,698.3 L1504.3,698.8 L1505.3,699.4 L1506.3,699.9 L1507.3,700.5 L1508.3,701.0 L1509.3,701.5 L1510.3,702.0 L1511.3,702.5 L1512.3,703.0 L1513.3,703.5 L1514.3,703.9 L1515.3,704.4 L1516.3,704.9 L1517.3,705.3 L1518.3,705.8 L1519.3,706.2 L1520.3,706.6 L1521.3,707.1 L1522.3,707.5 L1523.3,707.9 L1524.3,708.3 L1525.3,708.7 L1526.3,709.1 L1527.3,709.5 L1528.3,709.9 L1529.3,710.3 L1530.3,710.7 L1531.3,711.0 L1532.3,711.4 L1533.3,711.8 L1534.3,712.1 L1535.3,712.5 L1536.3,712.8 L1537.3,713.2 L1538.3,713.5 L1539.3,713.8 L1540.3,714.2 L1541.3,714.5 L1542.3,714.8 L1543.3,715.1 L1544.3,715.4 L1545.3,715.7 L1546.3,716.1 L1547.3,716.3 L1548.3,716.6 L1549.3,716.9 L1550.3,717.2 L1551.3,717.5 L1552.3,717.8 L1553.3,718.0 L1554.3,718.3 L1555.3,718.6 L1556.3,718.8 L1557.3,719.1 L1558.3,719.3 L1559.3,719.6 L1560.3,719.8 L1561.3,720.1 L1562.3,720.3 L1563.3,720.5 L1564.3,720.8 L1565.3,721.0 L1566.3,721.2 L1567.3,721.5 L1568.3,721.7 L1569.3,721.9 L1570.3,722.1 L1571.3,722.3 L1572.3,722.5 L1573.3,722.7 L1574.3,722.9 L1575.3,723.1 L1576.3,723.3 L1577.3,723.5 L1578.3,723.7 L1579.3,723.9 L1580.3,724.1 L1581.3,724.3 L1582.3,724.5 L1583.3,724.7 L1584.3,724.8 L1585.3,725.0 L1586.3,725.2 L1587.3,725.4 L1588.3,725.6 L1589.3,725.7 L1590.3,725.9 L1591.3,726.1 L1592.3,726.2 L1593.3,726.4 L1594.3,726.6 L1595.3,726.7 L1596.3,726.9 L1597.3,727.0 L1598.3,727.2 L1599.3,727.3 L1600.3,727.5 L1601.3,727.6 L1602.3,727.8 L1603.3,727.9 L1604.3,728.1 L1605.3,728.2 L1606.3,728.4 L1607.3,728.5 L1608.3,728.7 L1609.3,728.8 L1610.3,728.9 L1611.3,729.1 L1612.3,729.2 L1613.3,729.4 L1614.3,729.5 L1615.3,729.6 L1616.3,729.8 L1617.3,729.9 L1618.3,730.0 L1619.3,730.1 L1620.3,730.3 L1621.3,730.4 L1622.3,730.5 L1623.3,730.6 L1624.3,730.8 L1625.3,730.9 L1626.3,731.0 L1627.3,731.1 L1628.3,731.2 L1629.3,731.4 L1630.3,731.5 L1631.3,731.6 L1632.3,731.7 L1633.3,731.8 L1634.3,731.9 L1635.3,732.0 L1636.3,732.1 L1637.3,732.2 L1638.3,732.3 L1639.3,732.5 L1640.3,732.6 L1641.3,732.7 L1642.3,732.8 L1643.3,732.9 L1644.3,733.0 L1645.3,733.1 L1646.3,733.2 L1647.3,733.3 L1648.3,733.4 L1649.3,733.5 L1650.3,733.5 L1651.3,733.6 L1652.3,733.7 L1653.3,733.8 L1654.3,733.9 L1655.3,734.0 L1656.3,734.1 L1657.3,734.2 L1658.3,734.3 L1659.3,734.4 L1660.3,734.5 L1661.3,734.5 L1662.3,734.6 L1663.3,734.7 L1664.3,734.8 L1665.3,734.9 L1666.3,735.0 L1667.3,735.0 L1668.3,735.1 L1669.3,735.2 L1670.3,735.3 L1671.3,735.4 L1672.3,735.4 L1673.3,735.5 L1674.3,735.6 L1675.3,735.7 L1676.3,735.7 L1677.3,735.8 L1678.3,735.9 L1679.3,736.0 L1680.3,736.0 L1681.3,736.1 L1682.3,736.2 L1683.3,736.3 L1684.3,736.3 L1685.3,736.4 L1686.3,736.5 L1687.3,736.5 L1688.3,736.6 L1689.3,736.7 L1690.3,736.7 L1691.3,736.8 L1692.3,736.9 L1693.3,736.9 L1694.3,737.0 L1695.3,737.1 L1696.3,737.1 L1697.3,737.2 L1698.3,737.2 L1699.3,737.3 L1700.3,737.4 L1701.3,737.4 L1702.3,737.5 L1703.3,737.6 L1704.3,737.6 L1705.3,737.7 L1706.3,737.7 L1707.3,737.8 L1708.3,737.8 L1709.3,737.9 L1710.3,738.0 L1711.3,738.0 L1712.3,738.1 L1713.3,738.1 L1714.3,738.2 L1715.3,738.2 L1716.3,738.3 L1717.3,738.3 L1718.3,738.4 L1719.3,738.5 L1720.3,738.5 L1721.3,738.6 L1722.3,738.6 L1723.3,738.7 L1724.3,738.7 L1725.3,738.8 L1726.3,738.8 L1727.3,738.9 L1728.3,738.9 L1729.3,739.0 L1730.3,739.0 L1731.3,739.1 L1732.3,739.1 L1733.3,739.2 L1734.3,739.2 L1735.3,739.2 L1736.3,739.3 L1737.3,739.3 L1738.3,739.4 L1739.3,739.4 L1740.3,739.5 L1741.3,739.5 L1742.3,739.6 L1743.3,739.6 L1744.3,739.7 L1745.3,739.7 L1745.5,739.7" fill="none" stroke="#000" stroke-width="4.5" stroke-linejoin="round" clip-path="url(#clip1)"/>
<text x="1065.20" y="805.80" font-size="45.83" font-weight="bold" fill="#262626" text-anchor="middle" >3.5</text>
<text x="1201.26" y="805.80" font-size="45.83" font-weight="bold" fill="#262626" text-anchor="middle" >3.7</text>
<text x="1337.32" y="805.80" font-size="45.83" font-weight="bold" fill="#262626" text-anchor="middle" >3.9</text>
<text x="1473.38" y="805.80" font-size="45.83" font-weight="bold" fill="#262626" text-anchor="middle" >4.1</text>
<text x="1609.44" y="805.80" font-size="45.83" font-weight="bold" fill="#262626" text-anchor="middle" >4.3</text>
<text x="1745.50" y="805.80" font-size="45.83" font-weight="bold" fill="#262626" text-anchor="middle" >4.5</text>
<text x="1052.10" y="766.80" font-size="45.83" font-weight="bold" fill="#000" text-anchor="end" >1</text>
<text x="1052.10" y="583.13" font-size="45.83" font-weight="bold" fill="#000" text-anchor="end" >1.5</text>
<text x="1052.10" y="399.45" font-size="45.83" font-weight="bold" fill="#000" text-anchor="end" >2</text>
<text x="1052.10" y="215.77" font-size="45.83" font-weight="bold" fill="#000" text-anchor="end" >2.5</text>
<text x="1052.10" y="32.10" font-size="45.83" font-weight="bold" fill="#000" text-anchor="end" >3</text>
<text x="1758.50" y="766.80" font-size="45.83" font-weight="bold" fill="#000" text-anchor="start" >0</text>
<text x="1758.50" y="674.96" font-size="45.83" font-weight="bold" fill="#000" text-anchor="start" >1</text>
<text x="1758.50" y="583.13" font-size="45.83" font-weight="bold" fill="#000" text-anchor="start" >2</text>
<text x="1758.50" y="491.29" font-size="45.83" font-weight="bold" fill="#000" text-anchor="start" >3</text>
<text x="1758.50" y="399.45" font-size="45.83" font-weight="bold" fill="#000" text-anchor="start" >4</text>
<text x="1758.50" y="307.61" font-size="45.83" font-weight="bold" fill="#000" text-anchor="start" >5</text>
<text x="1758.50" y="215.77" font-size="45.83" font-weight="bold" fill="#000" text-anchor="start" >6</text>
<text x="1758.50" y="123.94" font-size="45.83" font-weight="bold" fill="#000" text-anchor="start" >7</text>
<text x="1758.50" y="32.10" font-size="45.83" font-weight="bold" fill="#000" text-anchor="start" >8</text>
<text x="1406.25" y="862.20" font-size="50" font-weight="bold" fill="#262626" text-anchor="middle" >R <tspan stroke="#262626" stroke-width="1.3">/</tspan>Bohr</text>
<text transform="translate(978.4000000000001,382.85) rotate(-90)" font-size="50" font-weight="bold" fill="#000" text-anchor="middle">Energy <tspan stroke="#000" stroke-width="1.3">/</tspan>eV</text>
<text transform="translate(1849.2,382.85) rotate(-90)" font-size="50" font-weight="bold" fill="#000" text-anchor="middle">NAC <tspan stroke="#000" stroke-width="1.3">/</tspan>A<tspan font-size="40" dy="-26">-1</tspan></text>
<text x="1608.20" y="515.90" font-size="68" font-weight="bold" fill="#000" text-anchor="start" >(b)</text>
<text transform="translate(1338.32 136.80) scale(0.8 1)" font-size="36" font-weight="bold" fill="#000" stroke="#000" stroke-width="1.5" stroke-linejoin="miter">&lt;</text>
<text x="1355.69" y="135.80" font-size="36" font-weight="bold" fill="#000">2</text>
<text x="1373.95" y="118.50" font-size="28" font-weight="bold" fill="#000">3</text>
<text x="1388.56" y="135.80" font-size="36" font-weight="normal" fill="#000" stroke="#000" stroke-width="0.8" stroke-linejoin="miter">Π</text>
<text x="1415.98" y="152.60" font-size="28" font-weight="bold" fill="#000">u</text>
<text x="1429.89" y="135.80" font-size="36" font-weight="bold" fill="#000" stroke="#000" stroke-width="1.0" stroke-linejoin="miter">|</text>
<text transform="translate(1439.34 135.80) scale(1.18 1)" font-size="36" font-weight="normal" font-style="italic" fill="#000" stroke="#000" stroke-width="1.1" stroke-linejoin="miter">∂</text>
<text x="1458.35" y="135.80" font-size="36" font-weight="bold" fill="#000" stroke="#000" stroke-width="1.0" stroke-linejoin="miter">/</text>
<text transform="translate(1469.34 135.80) scale(1.18 1)" font-size="36" font-weight="normal" font-style="italic" fill="#000" stroke="#000" stroke-width="1.1" stroke-linejoin="miter">∂</text>
<text transform="translate(1488.88 135.80) scale(0.93 1)" font-size="36" font-weight="bold" fill="#000" stroke="#000" stroke-width="0.5" stroke-linejoin="miter">R</text>
<text x="1511.89" y="135.80" font-size="36" font-weight="bold" fill="#000" stroke="#000" stroke-width="1.0" stroke-linejoin="miter">|</text>
<text x="1518.45" y="135.80" font-size="36" font-weight="bold" fill="#000">3</text>
<text x="1536.55" y="118.50" font-size="28" font-weight="bold" fill="#000">3</text>
<text x="1551.16" y="135.80" font-size="36" font-weight="normal" fill="#000" stroke="#000" stroke-width="0.8" stroke-linejoin="miter">Π</text>
<text x="1578.58" y="152.60" font-size="28" font-weight="bold" fill="#000">u</text>
<text transform="translate(1594.39 136.80) scale(0.8 1)" font-size="36" font-weight="bold" fill="#000" stroke="#000" stroke-width="1.5" stroke-linejoin="miter">&gt;</text>
<text x="1607.45" y="283.10" font-size="36" font-weight="bold" fill="#0000ff">3</text>
<text x="1624.95" y="265.80" font-size="28" font-weight="bold" fill="#0000ff">3</text>
<text x="1640.26" y="283.10" font-size="36" font-weight="normal" fill="#0000ff" stroke="#0000ff" stroke-width="0.8" stroke-linejoin="miter">Π</text>
<text x="1667.08" y="299.90" font-size="28" font-weight="bold" fill="#0000ff">u</text>
<text x="1607.69" y="649.80" font-size="36" font-weight="bold" fill="#ff0000">2</text>
<text x="1625.35" y="632.50" font-size="28" font-weight="bold" fill="#ff0000">3</text>
<text x="1640.66" y="649.80" font-size="36" font-weight="normal" fill="#ff0000" stroke="#ff0000" stroke-width="0.8" stroke-linejoin="miter">Π</text>
<text x="1667.48" y="666.60" font-size="28" font-weight="bold" fill="#ff0000">u</text>
<clipPath id="clip2"><rect x="120.1" y="946.1" width="659.3" height="737.0"/></clipPath>
<g stroke="#262626" stroke-width="1.7" fill="none">
<rect x="121.0" y="947.0" width="657.5" height="735.2"/>
<path d="M121.00,1682.2 v-7.35 M121.00,947.0 v7.35"/>
<path d="M252.50,1682.2 v-7.35 M252.50,947.0 v7.35"/>
<path d="M384.00,1682.2 v-7.35 M384.00,947.0 v7.35"/>
<path d="M515.50,1682.2 v-7.35 M515.50,947.0 v7.35"/>
<path d="M647.00,1682.2 v-7.35 M647.00,947.0 v7.35"/>
<path d="M778.50,1682.2 v-7.35 M778.50,947.0 v7.35"/>
<path d="M121.0,1682.20 h7.35"/>
<path d="M121.0,1590.30 h7.35"/>
<path d="M121.0,1498.40 h7.35"/>
<path d="M121.0,1406.50 h7.35"/>
<path d="M121.0,1314.60 h7.35"/>
<path d="M121.0,1222.70 h7.35"/>
<path d="M121.0,1130.80 h7.35"/>
<path d="M121.0,1038.90 h7.35"/>
<path d="M121.0,947.00 h7.35"/>
<path d="M778.5,1682.20 h-7.35"/>
<path d="M778.5,1437.13 h-7.35"/>
<path d="M778.5,1192.07 h-7.35"/>
<path d="M778.5,947.00 h-7.35"/>
</g>
<g clip-path="url(#clip2)" fill="none" stroke-linejoin="round">
<path d="M121.0,1066.0 L153.9,1120.6 L186.8,1173.7 L219.6,1223.1 L252.5,1268.8 L285.4,1312.0 L318.2,1352.5 L351.1,1390.4 L384.0,1427.2 L416.9,1455.7 L449.8,1456.4 L482.6,1451.2 L515.5,1444.8 L548.4,1437.0 L581.2,1428.6 L614.1,1419.9 L647.0,1411.4 L679.9,1402.5 L712.8,1394.7 L745.6,1386.5 L778.5,1378.6" stroke="#0000ff" stroke-width="4.5"/>
<path d="M121.0,1452.3 L153.9,1461.3 L186.8,1467.9 L219.6,1472.8 L252.5,1475.5 L285.4,1476.4 L318.2,1475.5 L351.1,1472.8 L384.0,1465.7 L416.9,1465.5 L449.8,1491.6 L482.6,1517.3 L515.5,1541.8 L548.4,1565.2 L581.2,1587.5 L614.1,1608.6 L647.0,1626.5 L679.9,1644.0 L712.8,1661.5 L745.6,1677.5 L778.5,1692.0" stroke="#ff0000" stroke-width="4.5"/>
<path d="M121.0,1066.0 L153.9,1120.6 L186.8,1173.7 L219.6,1223.1 L252.5,1268.8 L285.4,1312.0 L318.2,1352.5 L351.1,1390.4 L384.0,1427.2 L416.9,1465.5" stroke="#ff0000" stroke-width="4.5" stroke-dasharray="17.8 16.4" stroke-dashoffset="3.5"/>
<path d="M121.0,1452.3 L153.9,1461.3 L186.8,1467.9 L219.6,1472.8 L252.5,1475.5 L285.4,1476.4 L318.2,1475.5 L351.1,1472.8 L384.0,1465.7 L416.9,1459.5 L449.8,1457.5 L482.6,1451.2 L515.5,1444.8 L548.4,1437.0 L581.2,1428.6 L614.1,1419.9 L647.0,1411.4 L679.9,1402.5 L712.8,1394.7 L745.6,1386.5 L778.5,1378.6" stroke="#0000ff" stroke-width="4.5" stroke-dasharray="17.8 16.4" stroke-dashoffset="22.2"/>
</g>
<path d="M121.0,1675.2 L122.0,1675.2 L123.0,1675.1 L124.0,1675.0 L125.0,1675.0 L126.0,1674.9 L127.0,1674.9 L128.0,1674.8 L129.0,1674.7 L130.0,1674.7 L131.0,1674.6 L132.0,1674.6 L133.0,1674.5 L134.0,1674.4 L135.0,1674.4 L136.0,1674.3 L137.0,1674.2 L138.0,1674.2 L139.0,1674.1 L140.0,1674.0 L141.0,1674.0 L142.0,1673.9 L143.0,1673.8 L144.0,1673.8 L145.0,1673.7 L146.0,1673.6 L147.0,1673.5 L148.0,1673.5 L149.0,1673.4 L150.0,1673.3 L151.0,1673.3 L152.0,1673.2 L153.0,1673.1 L154.0,1673.0 L155.0,1673.0 L156.0,1672.9 L157.0,1672.8 L158.0,1672.7 L159.0,1672.6 L160.0,1672.6 L161.0,1672.5 L162.0,1672.4 L163.0,1672.3 L164.0,1672.2 L165.0,1672.1 L166.0,1672.1 L167.0,1672.0 L168.0,1671.9 L169.0,1671.8 L170.0,1671.7 L171.0,1671.6 L172.0,1671.5 L173.0,1671.4 L174.0,1671.4 L175.0,1671.3 L176.0,1671.2 L177.0,1671.1 L178.0,1671.0 L179.0,1670.9 L180.0,1670.8 L181.0,1670.7 L182.0,1670.6 L183.0,1670.5 L184.0,1670.4 L185.0,1670.3 L186.0,1670.2 L187.0,1670.1 L188.0,1670.0 L189.0,1669.9 L190.0,1669.7 L191.0,1669.6 L192.0,1669.5 L193.0,1669.4 L194.0,1669.3 L195.0,1669.2 L196.0,1669.1 L197.0,1669.0 L198.0,1668.8 L199.0,1668.7 L200.0,1668.6 L201.0,1668.5 L202.0,1668.3 L203.0,1668.2 L204.0,1668.1 L205.0,1668.0 L206.0,1667.8 L207.0,1667.7 L208.0,1667.6 L209.0,1667.4 L210.0,1667.3 L211.0,1667.2 L212.0,1667.0 L213.0,1666.9 L214.0,1666.8 L215.0,1666.6 L216.0,1666.5 L217.0,1666.3 L218.0,1666.2 L219.0,1666.0 L220.0,1665.9 L221.0,1665.7 L222.0,1665.6 L223.0,1665.4 L224.0,1665.3 L225.0,1665.1 L226.0,1665.0 L227.0,1664.8 L228.0,1664.7 L229.0,1664.5 L230.0,1664.3 L231.0,1664.2 L232.0,1664.0 L233.0,1663.8 L234.0,1663.6 L235.0,1663.4 L236.0,1663.3 L237.0,1663.1 L238.0,1662.9 L239.0,1662.7 L240.0,1662.5 L241.0,1662.3 L242.0,1662.1 L243.0,1661.9 L244.0,1661.7 L245.0,1661.4 L246.0,1661.2 L247.0,1661.0 L248.0,1660.7 L249.0,1660.5 L250.0,1660.2 L251.0,1660.0 L252.0,1659.7 L253.0,1659.5 L254.0,1659.2 L255.0,1658.9 L256.0,1658.6 L257.0,1658.3 L258.0,1658.1 L259.0,1657.8 L260.0,1657.4 L261.0,1657.1 L262.0,1656.8 L263.0,1656.5 L264.0,1656.2 L265.0,1655.8 L266.0,1655.5 L267.0,1655.1 L268.0,1654.8 L269.0,1654.4 L270.0,1654.0 L271.0,1653.7 L272.0,1653.3 L273.0,1652.9 L274.0,1652.5 L275.0,1652.1 L276.0,1651.7 L277.0,1651.3 L278.0,1650.8 L279.0,1650.4 L280.0,1650.0 L281.0,1649.5 L282.0,1649.1 L283.0,1648.7 L284.0,1648.3 L285.0,1647.9 L286.0,1647.5 L287.0,1647.0 L288.0,1646.6 L289.0,1646.1 L290.0,1645.6 L291.0,1645.0 L292.0,1644.4 L293.0,1643.9 L294.0,1643.3 L295.0,1642.7 L296.0,1642.0 L297.0,1641.4 L298.0,1640.7 L299.0,1640.1 L300.0,1639.4 L301.0,1638.6 L302.0,1637.9 L303.0,1637.1 L304.0,1636.4 L305.0,1635.5 L306.0,1634.7 L307.0,1633.9 L308.0,1633.0 L309.0,1632.1 L310.0,1631.2 L311.0,1630.2 L312.0,1629.2 L313.0,1628.2 L314.0,1627.2 L315.0,1626.1 L316.0,1625.0 L317.0,1623.9 L318.0,1622.7 L319.0,1621.5 L320.0,1620.3 L321.0,1619.1 L322.0,1617.8 L323.0,1616.5 L324.0,1615.1 L325.0,1613.7 L326.0,1612.3 L327.0,1610.8 L328.0,1609.3 L329.0,1607.7 L330.0,1606.1 L331.0,1604.4 L332.0,1602.7 L333.0,1600.9 L334.0,1599.1 L335.0,1597.2 L336.0,1595.3 L337.0,1593.3 L338.0,1591.2 L339.0,1589.1 L340.0,1586.9 L341.0,1584.6 L342.0,1582.2 L343.0,1579.8 L344.0,1577.2 L345.0,1574.6 L346.0,1571.9 L347.0,1569.1 L348.0,1566.2 L349.0,1563.2 L350.0,1560.2 L351.0,1557.1 L352.0,1553.9 L353.0,1550.7 L354.0,1547.3 L355.0,1543.8 L356.0,1540.3 L357.0,1536.6 L358.0,1532.8 L359.0,1528.8 L360.0,1524.8 L361.0,1520.6 L362.0,1516.3 L363.0,1511.8 L364.0,1507.2 L365.0,1502.4 L366.0,1497.5 L367.0,1492.6 L368.0,1487.6 L369.0,1482.6 L370.0,1477.5 L371.0,1472.3 L372.0,1466.9 L373.0,1461.3 L374.0,1455.4 L375.0,1449.2 L376.0,1442.8 L377.0,1436.1 L378.0,1429.2 L379.0,1422.2 L380.0,1415.0 L381.0,1407.6 L382.0,1400.2 L383.0,1392.6 L384.0,1385.0 L385.0,1377.3 L386.0,1369.5 L387.0,1361.5 L388.0,1353.4 L389.0,1345.3 L390.0,1337.2 L391.0,1329.4 L392.0,1321.5 L393.0,1313.5 L394.0,1305.5 L395.0,1297.6 L396.0,1289.4 L397.0,1281.3 L398.0,1273.3 L399.0,1265.4 L400.0,1257.9 L401.0,1250.6 L402.0,1243.7 L403.0,1237.3 L404.0,1231.5 L405.0,1226.5 L406.0,1222.2 L407.0,1218.8 L408.0,1216.3 L409.0,1214.8 L410.0,1214.2 L410.1,1214.2 L411.1,1214.7 L412.1,1216.1 L413.1,1218.5 L414.1,1221.9 L415.1,1226.1 L416.1,1231.1 L417.1,1236.9 L418.1,1243.4 L419.1,1250.6 L420.1,1258.1 L421.1,1266.0 L422.1,1274.0 L423.1,1282.0 L424.1,1290.1 L425.1,1298.1 L426.1,1306.0 L427.1,1313.9 L428.1,1322.0 L429.1,1330.2 L430.1,1338.4 L431.1,1346.5 L432.1,1354.6 L433.1,1362.7 L434.1,1370.3 L435.1,1377.2 L436.1,1383.5 L437.1,1389.8 L438.1,1396.8 L439.1,1404.4 L440.1,1411.9 L441.1,1419.3 L442.1,1426.7 L443.1,1434.2 L444.1,1441.6 L445.1,1448.9 L446.1,1455.9 L447.1,1462.8 L448.1,1469.6 L449.1,1476.2 L450.1,1482.5 L451.1,1488.5 L452.1,1494.3 L453.1,1499.8 L454.1,1505.1 L455.1,1510.2 L456.1,1515.1 L457.1,1519.8 L458.1,1524.4 L459.1,1528.8 L460.1,1533.0 L461.1,1537.2 L462.1,1541.1 L463.1,1545.0 L464.1,1548.7 L465.1,1552.3 L466.1,1555.7 L467.1,1559.1 L468.1,1562.3 L469.1,1565.4 L470.1,1568.4 L471.1,1571.3 L472.1,1574.2 L473.1,1576.9 L474.1,1579.6 L475.1,1582.1 L476.1,1584.6 L477.1,1587.1 L478.1,1589.4 L479.1,1591.7 L480.1,1593.9 L481.1,1596.1 L482.1,1598.2 L483.1,1600.2 L484.1,1602.2 L485.1,1604.1 L486.1,1605.9 L487.1,1607.6 L488.1,1609.3 L489.1,1610.9 L490.1,1612.4 L491.1,1613.8 L492.1,1615.3 L493.1,1616.6 L494.1,1618.0 L495.1,1619.3 L496.1,1620.5 L497.1,1621.8 L498.1,1623.0 L499.1,1624.1 L500.1,1625.2 L501.1,1626.3 L502.1,1627.4 L503.1,1628.4 L504.1,1629.5 L505.1,1630.4 L506.1,1631.4 L507.1,1632.3 L508.1,1633.2 L509.1,1634.1 L510.1,1635.0 L511.1,1635.8 L512.1,1636.5 L513.1,1637.2 L514.1,1637.8 L515.1,1638.4 L516.1,1639.0 L517.1,1639.5 L518.1,1640.1 L519.1,1640.7 L520.1,1641.4 L521.1,1642.1 L522.1,1642.7 L523.1,1643.3 L524.1,1644.0 L525.1,1644.6 L526.1,1645.2 L527.1,1645.8 L528.1,1646.3 L529.1,1646.9 L530.1,1647.4 L531.1,1648.0 L532.1,1648.5 L533.1,1649.0 L534.1,1649.5 L535.1,1649.9 L536.1,1650.4 L537.1,1650.8 L538.1,1651.3 L539.1,1651.7 L540.1,1652.1 L541.1,1652.5 L542.1,1652.9 L543.1,1653.3 L544.1,1653.7 L545.1,1654.1 L546.1,1654.5 L547.1,1654.8 L548.1,1655.2 L549.1,1655.5 L550.1,1655.9 L551.1,1656.2 L552.1,1656.6 L553.1,1656.9 L554.1,1657.2 L555.1,1657.5 L556.1,1657.9 L557.1,1658.2 L558.1,1658.5 L559.1,1658.8 L560.1,1659.1 L561.1,1659.4 L562.1,1659.7 L563.1,1660.0 L564.1,1660.2 L565.1,1660.5 L566.1,1660.8 L567.1,1661.1 L568.1,1661.3 L569.1,1661.6 L570.1,1661.8 L571.1,1662.1 L572.1,1662.4 L573.1,1662.6 L574.1,1662.8 L575.1,1663.1 L576.1,1663.3 L577.1,1663.5 L578.1,1663.8 L579.1,1664.0 L580.1,1664.2 L581.1,1664.4 L582.1,1664.6 L583.1,1664.8 L584.1,1665.0 L585.1,1665.2 L586.1,1665.4 L587.1,1665.6 L588.1,1665.8 L589.1,1666.0 L590.1,1666.2 L591.1,1666.4 L592.1,1666.6 L593.1,1666.7 L594.1,1666.9 L595.1,1667.1 L596.1,1667.3 L597.1,1667.4 L598.1,1667.6 L599.1,1667.7 L600.1,1667.9 L601.1,1668.1 L602.1,1668.2 L603.1,1668.4 L604.1,1668.5 L605.1,1668.7 L606.1,1668.8 L607.1,1668.9 L608.1,1669.1 L609.1,1669.2 L610.1,1669.3 L611.1,1669.5 L612.1,1669.6 L613.1,1669.7 L614.1,1669.8 L615.1,1670.0 L616.1,1670.1 L617.1,1670.2 L618.1,1670.3 L619.1,1670.4 L620.1,1670.5 L621.1,1670.6 L622.1,1670.7 L623.1,1670.8 L624.1,1670.9 L625.1,1671.0 L626.1,1671.1 L627.1,1671.2 L628.1,1671.2 L629.1,1671.3 L630.1,1671.4 L631.1,1671.5 L632.1,1671.6 L633.1,1671.7 L634.1,1671.7 L635.1,1671.8 L636.1,1671.9 L637.1,1672.0 L638.1,1672.0 L639.1,1672.1 L640.1,1672.2 L641.1,1672.2 L642.1,1672.3 L643.1,1672.4 L644.1,1672.5 L645.1,1672.5 L646.1,1672.6 L647.1,1672.7 L648.1,1672.7 L649.1,1672.8 L650.1,1672.8 L651.1,1672.9 L652.1,1673.0 L653.1,1673.0 L654.1,1673.1 L655.1,1673.1 L656.1,1673.2 L657.1,1673.2 L658.1,1673.3 L659.1,1673.3 L660.1,1673.4 L661.1,1673.4 L662.1,1673.5 L663.1,1673.5 L664.1,1673.6 L665.1,1673.6 L666.1,1673.7 L667.1,1673.7 L668.1,1673.8 L669.1,1673.8 L670.1,1673.9 L671.1,1673.9 L672.1,1674.0 L673.1,1674.0 L674.1,1674.1 L675.1,1674.1 L676.1,1674.2 L677.1,1674.2 L678.1,1674.3 L679.1,1674.3 L680.1,1674.4 L681.1,1674.4 L682.1,1674.5 L683.1,1674.5 L684.1,1674.6 L685.1,1674.7 L686.1,1674.7 L687.1,1674.8 L688.1,1674.8 L689.1,1674.9 L690.1,1674.9 L691.1,1675.0 L692.1,1675.0 L693.1,1675.1 L694.1,1675.1 L695.1,1675.2 L696.1,1675.2 L697.1,1675.3 L698.1,1675.4 L699.1,1675.4 L700.1,1675.4 L701.1,1675.5 L702.1,1675.5 L703.1,1675.6 L704.1,1675.6 L705.1,1675.7 L706.1,1675.7 L707.1,1675.8 L708.1,1675.8 L709.1,1675.9 L710.1,1675.9 L711.1,1676.0 L712.1,1676.0 L713.1,1676.0 L714.1,1676.1 L715.1,1676.1 L716.1,1676.2 L717.1,1676.2 L718.1,1676.2 L719.1,1676.3 L720.1,1676.3 L721.1,1676.4 L722.1,1676.4 L723.1,1676.4 L724.1,1676.5 L725.1,1676.5 L726.1,1676.5 L727.1,1676.6 L728.1,1676.6 L729.1,1676.7 L730.1,1676.7 L731.1,1676.7 L732.1,1676.8 L733.1,1676.8 L734.1,1676.8 L735.1,1676.9 L736.1,1676.9 L737.1,1676.9 L738.1,1677.0 L739.1,1677.0 L740.1,1677.0 L741.1,1677.1 L742.1,1677.1 L743.1,1677.1 L744.1,1677.2 L745.1,1677.2 L746.1,1677.2 L747.1,1677.2 L748.1,1677.3 L749.1,1677.3 L750.1,1677.3 L751.1,1677.4 L752.1,1677.4 L753.1,1677.4 L754.1,1677.4 L755.1,1677.5 L756.1,1677.5 L757.1,1677.5 L758.1,1677.6 L759.1,1677.6 L760.1,1677.6 L761.1,1677.6 L762.1,1677.7 L763.1,1677.7 L764.1,1677.7 L765.1,1677.7 L766.1,1677.8 L767.1,1677.8 L768.1,1677.8 L769.1,1677.8 L770.1,1677.9 L771.1,1677.9 L772.1,1677.9 L773.1,1677.9 L774.1,1678.0 L775.1,1678.0 L776.1,1678.0 L777.1,1678.0 L778.1,1678.1 L778.5,1678.1" fill="none" stroke="#000" stroke-width="4.5" stroke-linejoin="round" clip-path="url(#clip2)"/>
<text x="121.00" y="1737.80" font-size="45.83" font-weight="bold" fill="#262626" text-anchor="middle" >3</text>
<text x="252.50" y="1737.80" font-size="45.83" font-weight="bold" fill="#262626" text-anchor="middle" >3.2</text>
<text x="384.00" y="1737.80" font-size="45.83" font-weight="bold" fill="#262626" text-anchor="middle" >3.4</text>
<text x="515.50" y="1737.80" font-size="45.83" font-weight="bold" fill="#262626" text-anchor="middle" >3.6</text>
<text x="647.00" y="1737.80" font-size="45.83" font-weight="bold" fill="#262626" text-anchor="middle" >3.8</text>
<text x="778.50" y="1737.80" font-size="45.83" font-weight="bold" fill="#262626" text-anchor="middle" >4</text>
<text x="107.90" y="1698.80" font-size="45.83" font-weight="bold" fill="#000" text-anchor="end" >1</text>
<text x="107.90" y="1606.90" font-size="45.83" font-weight="bold" fill="#000" text-anchor="end" >1.5</text>
<text x="107.90" y="1515.00" font-size="45.83" font-weight="bold" fill="#000" text-anchor="end" >2</text>
<text x="107.90" y="1423.10" font-size="45.83" font-weight="bold" fill="#000" text-anchor="end" >2.5</text>
<text x="107.90" y="1331.20" font-size="45.83" font-weight="bold" fill="#000" text-anchor="end" >3</text>
<text x="107.90" y="1239.30" font-size="45.83" font-weight="bold" fill="#000" text-anchor="end" >3.5</text>
<text x="107.90" y="1147.40" font-size="45.83" font-weight="bold" fill="#000" text-anchor="end" >4</text>
<text x="107.90" y="1055.50" font-size="45.83" font-weight="bold" fill="#000" text-anchor="end" >4.5</text>
<text x="107.90" y="963.60" font-size="45.83" font-weight="bold" fill="#000" text-anchor="end" >5</text>
<text x="791.50" y="1698.80" font-size="45.83" font-weight="bold" fill="#000" text-anchor="start" >0</text>
<text x="791.50" y="1453.73" font-size="45.83" font-weight="bold" fill="#000" text-anchor="start" >5</text>
<text x="791.50" y="1208.67" font-size="45.83" font-weight="bold" fill="#000" text-anchor="start" >10</text>
<text x="791.50" y="963.60" font-size="45.83" font-weight="bold" fill="#000" text-anchor="start" >15</text>
<text x="450.65" y="1794.20" font-size="50" font-weight="bold" fill="#262626" text-anchor="middle" >R <tspan stroke="#262626" stroke-width="1.3">/</tspan>Bohr</text>
<text transform="translate(34.2,1314.6) rotate(-90)" font-size="50" font-weight="bold" fill="#000" text-anchor="middle">Energy <tspan stroke="#000" stroke-width="1.3">/</tspan>eV</text>
<text transform="translate(905.1,1314.6) rotate(-90)" font-size="50" font-weight="bold" fill="#000" text-anchor="middle">NAC <tspan stroke="#000" stroke-width="1.3">/</tspan>A<tspan font-size="40" dy="-26">-1</tspan></text>
<text x="646.60" y="1522.80" font-size="68" font-weight="bold" fill="#000" text-anchor="start" >(c)</text>
<text transform="translate(319.32 1050.20) scale(0.8 1)" font-size="36" font-weight="bold" fill="#000" stroke="#000" stroke-width="1.5" stroke-linejoin="miter">&lt;</text>
<text x="336.68" y="1049.20" font-size="36" font-weight="bold" fill="#000">E</text>
<text x="359.75" y="1031.90" font-size="28" font-weight="bold" fill="#000">3</text>
<text transform="translate(374.59 1049.20) scale(1.18 1)" font-size="36" font-weight="normal" fill="#000" stroke="#000" stroke-width="0.5" stroke-linejoin="miter">Σ</text>
<text x="400.12" y="1035.20" font-size="30" font-weight="bold" fill="#000" stroke="#000" stroke-width="0.6" stroke-linejoin="miter">+</text>
<text x="400.26" y="1066.00" font-size="28" font-weight="bold" fill="#000">g</text>
<text x="416.39" y="1049.20" font-size="36" font-weight="bold" fill="#000" stroke="#000" stroke-width="1.0" stroke-linejoin="miter">|</text>
<text transform="translate(425.24 1049.20) scale(1.18 1)" font-size="36" font-weight="normal" font-style="italic" fill="#000" stroke="#000" stroke-width="1.1" stroke-linejoin="miter">∂</text>
<text x="444.85" y="1049.20" font-size="36" font-weight="bold" fill="#000" stroke="#000" stroke-width="1.0" stroke-linejoin="miter">/</text>
<text transform="translate(455.74 1049.20) scale(1.18 1)" font-size="36" font-weight="normal" font-style="italic" fill="#000" stroke="#000" stroke-width="1.1" stroke-linejoin="miter">∂</text>
<text transform="translate(474.78 1049.20) scale(0.93 1)" font-size="36" font-weight="bold" fill="#000" stroke="#000" stroke-width="0.5" stroke-linejoin="miter">R</text>
<text x="498.49" y="1049.20" font-size="36" font-weight="bold" fill="#000" stroke="#000" stroke-width="1.0" stroke-linejoin="miter">|</text>
<text x="505.19" y="1049.20" font-size="36" font-weight="bold" fill="#000">2</text>
<text x="523.55" y="1031.90" font-size="28" font-weight="bold" fill="#000">3</text>
<text transform="translate(538.19 1049.20) scale(1.18 1)" font-size="36" font-weight="normal" fill="#000" stroke="#000" stroke-width="0.5" stroke-linejoin="miter">Σ</text>
<text x="563.42" y="1035.20" font-size="30" font-weight="bold" fill="#000" stroke="#000" stroke-width="0.6" stroke-linejoin="miter">+</text>
<text x="563.96" y="1066.00" font-size="28" font-weight="bold" fill="#000">g</text>
<text transform="translate(581.29 1050.20) scale(0.8 1)" font-size="36" font-weight="bold" fill="#000" stroke="#000" stroke-width="1.5" stroke-linejoin="miter">&gt;</text>
<text x="645.99" y="1343.00" font-size="36" font-weight="bold" fill="#0000ff">2</text>
<text x="663.35" y="1325.70" font-size="28" font-weight="bold" fill="#0000ff">3</text>
<text transform="translate(678.49 1343.00) scale(1.18 1)" font-size="36" font-weight="normal" fill="#0000ff" stroke="#0000ff" stroke-width="0.5" stroke-linejoin="miter">Σ</text>
<text x="703.62" y="1329.00" font-size="30" font-weight="bold" fill="#0000ff" stroke="#0000ff" stroke-width="0.6" stroke-linejoin="miter">+</text>
<text x="704.16" y="1359.80" font-size="28" font-weight="bold" fill="#0000ff">g</text>
<text x="647.18" y="1600.80" font-size="36" font-weight="bold" fill="#ff0000">E</text>
<text x="669.35" y="1583.50" font-size="28" font-weight="bold" fill="#ff0000">3</text>
<text transform="translate(684.49 1600.80) scale(1.18 1)" font-size="36" font-weight="normal" fill="#ff0000" stroke="#ff0000" stroke-width="0.5" stroke-linejoin="miter">Σ</text>
<text x="709.62" y="1586.80" font-size="30" font-weight="bold" fill="#ff0000" stroke="#ff0000" stroke-width="0.6" stroke-linejoin="miter">+</text>
<text x="710.16" y="1617.60" font-size="28" font-weight="bold" fill="#ff0000">g</text>
<clipPath id="clip3"><rect x="1052.1" y="946.1" width="670.8" height="737.0"/></clipPath>
<g stroke="#262626" stroke-width="1.7" fill="none">
<rect x="1053.0" y="947.0" width="669.0" height="735.2"/>
<path d="M1053.00,1682.2 v-7.35 M1053.00,947.0 v7.35"/>
<path d="M1276.00,1682.2 v-7.35 M1276.00,947.0 v7.35"/>
<path d="M1499.00,1682.2 v-7.35 M1499.00,947.0 v7.35"/>
<path d="M1722.00,1682.2 v-7.35 M1722.00,947.0 v7.35"/>
<path d="M1053.0,1682.20 h7.35"/>
<path d="M1053.0,1559.67 h7.35"/>
<path d="M1053.0,1437.13 h7.35"/>
<path d="M1053.0,1314.60 h7.35"/>
<path d="M1053.0,1192.07 h7.35"/>
<path d="M1053.0,1069.53 h7.35"/>
<path d="M1053.0,947.00 h7.35"/>
<path d="M1722.0,1682.20 h-7.35"/>
<path d="M1722.0,1559.67 h-7.35"/>
<path d="M1722.0,1437.13 h-7.35"/>
<path d="M1722.0,1314.60 h-7.35"/>
<path d="M1722.0,1192.07 h-7.35"/>
<path d="M1722.0,1069.53 h-7.35"/>
<path d="M1722.0,947.00 h-7.35"/>
</g>
<g clip-path="url(#clip3)" fill="none" stroke-linejoin="round">
<path d="M1053.0,1081.0 L1108.8,1151.8 L1164.5,1204.5 L1220.2,1255.8 L1276.0,1313.1 L1331.8,1352.4 L1387.5,1340.6 L1443.2,1329.0 L1499.0,1317.6 L1554.8,1306.2 L1610.5,1294.9 L1666.2,1283.8 L1722.0,1273.0" stroke="#0000ff" stroke-width="4.5"/>
<path d="M1053.0,1410.8 L1108.8,1399.5 L1164.5,1388.2 L1220.2,1376.8 L1276.0,1365.5 L1331.8,1369.5 L1387.5,1420.0 L1443.2,1469.5 L1499.0,1514.5 L1554.8,1555.4 L1610.5,1594.4 L1666.2,1631.0 L1722.0,1664.7" stroke="#ff0000" stroke-width="4.5"/>
<path d="M1053.0,1081.0 L1108.8,1151.8 L1164.5,1204.5 L1220.2,1255.8 L1276.0,1313.1 L1331.8,1369.5" stroke="#ff0000" stroke-width="4.5" stroke-dasharray="17.8 16.4" stroke-dashoffset="18.7"/>
<path d="M1053.0,1410.8 L1108.8,1399.5 L1164.5,1388.2 L1220.2,1376.8 L1276.0,1365.5 L1331.8,1352.4 L1387.5,1340.6 L1443.2,1329.0 L1499.0,1317.6 L1554.8,1306.2 L1610.5,1294.9 L1666.2,1283.8 L1722.0,1273.0" stroke="#0000ff" stroke-width="4.5" stroke-dasharray="17.8 16.4" stroke-dashoffset="3.5"/>
</g>
<path d="M1053.0,1680.7 L1056.2,1680.7 L1059.4,1680.7 L1062.6,1680.7 L1065.8,1680.7 L1069.0,1680.7 L1072.2,1680.7 L1075.5,1680.7 L1078.7,1680.7 L1081.9,1680.7 L1085.1,1680.7 L1088.3,1680.6 L1091.5,1680.6 L1094.7,1680.6 L1097.9,1680.6 L1101.1,1680.6 L1104.3,1680.6 L1107.5,1680.6 L1110.7,1680.6 L1114.0,1680.6 L1117.2,1680.5 L1120.4,1680.5 L1123.6,1680.5 L1126.8,1680.5 L1130.0,1680.5 L1133.2,1680.5 L1136.4,1680.5 L1139.6,1680.4 L1142.8,1680.4 L1146.0,1680.4 L1149.2,1680.4 L1152.5,1680.4 L1155.7,1680.4 L1158.9,1680.4 L1162.1,1680.3 L1165.3,1680.3 L1168.5,1680.3 L1171.7,1680.3 L1174.9,1680.2 L1178.1,1680.2 L1181.3,1680.2 L1184.5,1680.2 L1187.7,1680.1 L1191.0,1680.1 L1194.2,1680.1 L1197.4,1680.0 L1200.6,1680.0 L1203.8,1679.9 L1207.0,1679.9 L1210.2,1679.8 L1213.4,1679.8 L1216.6,1679.7 L1219.8,1679.6 L1223.0,1679.5 L1226.2,1679.5 L1229.5,1679.4 L1232.7,1679.3 L1235.9,1679.1 L1239.1,1679.0 L1242.3,1678.9 L1245.5,1678.8 L1248.7,1678.7 L1251.9,1678.5 L1255.1,1678.3 L1258.4,1678.2 L1261.6,1678.0 L1264.8,1677.7 L1268.0,1677.5 L1271.2,1677.2 L1274.3,1676.8 L1277.4,1676.4 L1280.6,1675.6 L1283.7,1674.6 L1286.8,1673.4 L1289.6,1672.1 L1292.4,1670.6 L1295.0,1668.7 L1297.6,1666.6 L1299.8,1664.3 L1301.8,1661.9 L1303.7,1659.3 L1305.4,1656.6 L1307.0,1653.7 L1308.4,1650.7 L1309.6,1647.8 L1310.7,1644.8 L1311.6,1641.8 L1312.4,1638.7 L1313.2,1635.5 L1313.9,1632.4 L1314.6,1629.2 L1315.2,1626.0 L1315.7,1622.9 L1316.3,1619.7 L1316.8,1616.5 L1317.2,1613.4 L1317.7,1610.2 L1318.1,1607.0 L1318.4,1603.8 L1318.7,1600.6 L1319.0,1597.4 L1319.3,1594.2 L1319.5,1591.0 L1319.7,1587.8 L1319.9,1584.6 L1320.2,1581.4 L1320.3,1578.2 L1320.5,1575.0 L1320.7,1571.8 L1320.8,1568.6 L1321.0,1565.4 L1321.1,1562.2 L1321.3,1559.0 L1321.4,1555.8 L1321.5,1552.6 L1321.6,1549.4 L1321.8,1546.2 L1321.9,1543.0 L1322.0,1539.7 L1322.1,1536.5 L1322.2,1533.3 L1322.3,1530.1 L1322.4,1526.9 L1322.5,1523.7 L1322.6,1520.5 L1322.7,1517.3 L1322.7,1514.1 L1322.8,1510.9 L1322.9,1507.7 L1323.0,1504.5 L1323.1,1501.3 L1323.1,1498.1 L1323.2,1494.8 L1323.3,1491.6 L1323.4,1488.4 L1323.4,1485.2 L1323.5,1482.0 L1323.6,1478.8 L1323.7,1475.6 L1323.7,1472.4 L1323.8,1469.2 L1323.9,1466.0 L1323.9,1462.8 L1324.0,1459.6 L1324.1,1456.4 L1324.1,1453.1 L1324.2,1449.9 L1324.3,1446.7 L1324.3,1443.5 L1324.4,1440.3 L1324.4,1437.1 L1324.5,1433.9 L1324.5,1430.7 L1324.6,1427.5 L1324.6,1424.3 L1324.7,1421.1 L1324.7,1417.9 L1324.8,1414.7 L1324.8,1411.4 L1324.9,1408.2 L1324.9,1405.0 L1325.0,1401.8 L1325.0,1398.6 L1325.1,1395.4 L1325.2,1392.2 L1325.2,1389.0 L1325.3,1385.8 L1325.4,1382.6 L1325.5,1379.4 L1325.6,1376.2 L1325.7,1373.0 L1325.8,1369.8 L1325.8,1366.5 L1325.9,1363.3 L1326.0,1360.1 L1326.1,1356.9 L1326.1,1353.7 L1326.2,1350.5 L1326.3,1347.3 L1326.3,1344.1 L1326.4,1340.9 L1326.4,1337.7 L1326.5,1334.5 L1326.5,1331.3 L1326.6,1328.1 L1326.7,1324.8 L1326.7,1321.6 L1326.8,1318.4 L1326.8,1315.2 L1326.9,1312.0 L1326.9,1308.8 L1327.0,1305.6 L1327.0,1302.4 L1327.0,1299.2 L1327.1,1296.0 L1327.1,1292.8 L1327.2,1289.6 L1327.2,1286.3 L1327.2,1283.1 L1327.3,1279.9 L1327.3,1276.7 L1327.3,1273.5 L1327.4,1270.3 L1327.4,1267.1 L1327.4,1267.1 L1327.4,1264.4 L1327.5,1261.7 L1327.5,1259.1 L1327.5,1256.4 L1327.6,1253.7 L1327.6,1251.0 L1327.7,1248.4 L1327.7,1245.7 L1327.8,1243.0 L1327.8,1240.3 L1327.9,1237.6 L1327.9,1235.0 L1328.0,1232.3 L1328.0,1229.6 L1328.1,1226.9 L1328.1,1224.3 L1328.2,1221.6 L1328.2,1218.9 L1328.3,1216.2 L1328.3,1213.5 L1328.4,1210.9 L1328.4,1208.2 L1328.5,1205.5 L1328.6,1202.8 L1328.6,1200.2 L1328.7,1197.5 L1328.7,1194.8 L1328.8,1192.1 L1328.9,1189.4 L1328.9,1186.8 L1329.0,1184.1 L1329.1,1181.4 L1329.1,1178.7 L1329.2,1176.1 L1329.3,1173.4 L1329.3,1170.7 L1329.4,1168.0 L1329.5,1165.3 L1329.6,1162.7 L1329.6,1160.0 L1329.7,1157.3 L1329.8,1154.6 L1329.9,1152.0 L1330.0,1149.3 L1330.1,1146.6 L1330.1,1143.9 L1330.2,1141.3 L1330.3,1138.6 L1330.4,1135.9 L1330.4,1135.9 L1333.4,1160.2 L1333.4,1160.2 L1333.5,1164.3 L1333.7,1168.3 L1333.8,1172.4 L1333.9,1176.5 L1334.1,1180.5 L1334.2,1184.6 L1334.3,1188.6 L1334.4,1192.7 L1334.5,1196.8 L1334.6,1200.8 L1334.7,1204.9 L1334.8,1209.0 L1334.9,1213.0 L1335.0,1217.1 L1335.1,1221.2 L1335.1,1225.2 L1335.2,1229.3 L1335.3,1233.3 L1335.4,1237.4 L1335.4,1241.5 L1335.5,1245.5 L1335.6,1249.6 L1335.7,1253.7 L1335.7,1257.7 L1335.8,1261.8 L1335.9,1265.9 L1336.0,1269.9 L1336.0,1274.0 L1336.1,1278.1 L1336.2,1282.1 L1336.3,1286.2 L1336.3,1290.3 L1336.4,1294.3 L1336.5,1298.4 L1336.6,1302.4 L1336.6,1306.5 L1336.7,1310.6 L1336.8,1314.6 L1336.9,1318.7 L1336.9,1322.8 L1337.0,1326.8 L1337.1,1330.9 L1337.1,1335.0 L1337.2,1339.0 L1337.3,1343.1 L1337.3,1347.2 L1337.4,1351.2 L1337.5,1355.3 L1337.5,1359.4 L1337.6,1363.4 L1337.7,1367.5 L1337.7,1371.5 L1337.8,1375.6 L1337.8,1379.7 L1337.9,1383.7 L1337.9,1387.8 L1338.0,1391.9 L1338.0,1395.9 L1338.1,1400.0 L1338.1,1400.0 L1338.2,1403.8 L1338.2,1407.5 L1338.3,1411.3 L1338.4,1415.1 L1338.5,1418.8 L1338.6,1422.6 L1338.6,1426.4 L1338.7,1430.1 L1338.8,1433.9 L1338.9,1437.7 L1339.0,1441.4 L1339.1,1445.2 L1339.2,1449.0 L1339.3,1452.7 L1339.4,1456.5 L1339.5,1460.3 L1339.6,1464.0 L1339.7,1467.8 L1339.8,1471.6 L1339.9,1475.3 L1340.0,1479.1 L1340.1,1482.9 L1340.2,1486.6 L1340.3,1490.4 L1340.4,1494.2 L1340.5,1497.9 L1340.6,1501.7 L1340.7,1505.4 L1340.9,1509.2 L1341.0,1513.0 L1341.1,1516.7 L1341.2,1520.5 L1341.4,1524.3 L1341.5,1528.0 L1341.6,1531.8 L1341.8,1535.6 L1341.9,1539.3 L1342.1,1543.1 L1342.2,1546.9 L1342.4,1550.6 L1342.6,1554.4 L1342.8,1558.2 L1343.0,1561.9 L1343.2,1565.7 L1343.4,1569.4 L1343.7,1573.2 L1343.9,1577.0 L1344.2,1580.7 L1344.5,1584.5 L1344.8,1588.2 L1345.1,1592.0 L1345.5,1595.7 L1345.9,1599.5 L1346.3,1603.2 L1346.7,1607.0 L1347.2,1610.7 L1347.7,1614.4 L1348.3,1618.2 L1348.9,1621.9 L1349.6,1625.6 L1350.2,1629.3 L1351.0,1633.0 L1351.8,1636.8 L1352.7,1640.4 L1353.7,1644.1 L1354.8,1647.6 L1356.2,1651.1 L1357.8,1654.6 L1359.7,1657.9 L1361.8,1661.1 L1364.1,1663.9 L1366.7,1666.6 L1369.7,1669.2 L1372.9,1671.4 L1376.1,1673.1 L1379.5,1674.4 L1383.0,1675.6 L1386.7,1676.6 L1390.5,1677.5 L1394.3,1678.2 L1398.1,1678.7 L1401.8,1678.9 L1405.5,1679.1 L1409.2,1679.3 L1413.0,1679.4 L1416.8,1679.6 L1420.5,1679.7 L1424.3,1679.8 L1428.1,1679.9 L1431.9,1680.0 L1435.7,1680.1 L1439.4,1680.2 L1443.2,1680.2 L1447.0,1680.3 L1450.8,1680.3 L1454.5,1680.3 L1458.3,1680.4 L1462.1,1680.4 L1465.8,1680.4 L1469.6,1680.5 L1473.4,1680.5 L1477.1,1680.5 L1480.9,1680.5 L1484.7,1680.6 L1488.4,1680.6 L1492.2,1680.6 L1496.0,1680.6 L1499.7,1680.6 L1503.5,1680.6 L1507.3,1680.6 L1511.0,1680.6 L1514.8,1680.6 L1518.6,1680.6 L1522.3,1680.6 L1526.1,1680.6 L1529.9,1680.7 L1533.6,1680.7 L1537.4,1680.7 L1541.2,1680.7 L1544.9,1680.7 L1548.7,1680.7 L1552.5,1680.7 L1556.2,1680.7 L1560.0,1680.7 L1563.8,1680.7 L1567.5,1680.7 L1571.3,1680.7 L1575.1,1680.7 L1578.8,1680.7 L1582.6,1680.7 L1586.4,1680.7 L1590.1,1680.7 L1593.9,1680.7 L1597.7,1680.7 L1601.4,1680.7 L1605.2,1680.7 L1609.0,1680.7 L1612.7,1680.8 L1616.5,1680.8 L1620.3,1680.8 L1624.1,1680.8 L1627.8,1680.8 L1631.6,1680.8 L1635.4,1680.8 L1639.1,1680.8 L1642.9,1680.8 L1646.7,1680.8 L1650.4,1680.8 L1654.2,1680.8 L1658.0,1680.8 L1661.7,1680.8 L1665.5,1680.8 L1669.3,1680.8 L1673.0,1680.8 L1676.8,1680.8 L1680.6,1680.8 L1684.3,1680.8 L1688.1,1680.8 L1691.9,1680.8 L1695.6,1680.8 L1699.4,1680.8 L1703.2,1680.8 L1706.9,1680.8 L1710.7,1680.8 L1714.5,1680.8 L1718.2,1680.8 L1722.0,1680.8" fill="none" stroke="#000" stroke-width="4.5" stroke-linejoin="round" clip-path="url(#clip3)"/>
<text x="1053.00" y="1737.80" font-size="45.83" font-weight="bold" fill="#262626" text-anchor="middle" >2.8</text>
<text x="1276.00" y="1737.80" font-size="45.83" font-weight="bold" fill="#262626" text-anchor="middle" >3</text>
<text x="1499.00" y="1737.80" font-size="45.83" font-weight="bold" fill="#262626" text-anchor="middle" >3.2</text>
<text x="1722.00" y="1737.80" font-size="45.83" font-weight="bold" fill="#262626" text-anchor="middle" >3.4</text>
<text x="1039.90" y="1698.80" font-size="45.83" font-weight="bold" fill="#000" text-anchor="end" >3</text>
<text x="1039.90" y="1576.27" font-size="45.83" font-weight="bold" fill="#000" text-anchor="end" >4</text>
<text x="1039.90" y="1453.73" font-size="45.83" font-weight="bold" fill="#000" text-anchor="end" >5</text>
<text x="1039.90" y="1331.20" font-size="45.83" font-weight="bold" fill="#000" text-anchor="end" >6</text>
<text x="1039.90" y="1208.67" font-size="45.83" font-weight="bold" fill="#000" text-anchor="end" >7</text>
<text x="1039.90" y="1086.13" font-size="45.83" font-weight="bold" fill="#000" text-anchor="end" >8</text>
<text x="1039.90" y="963.60" font-size="45.83" font-weight="bold" fill="#000" text-anchor="end" >9</text>
<text x="1735.00" y="1698.80" font-size="45.83" font-weight="bold" fill="#000" text-anchor="start" >0</text>
<text x="1735.00" y="1576.27" font-size="45.83" font-weight="bold" fill="#000" text-anchor="start" >10</text>
<text x="1735.00" y="1453.73" font-size="45.83" font-weight="bold" fill="#000" text-anchor="start" >20</text>
<text x="1735.00" y="1331.20" font-size="45.83" font-weight="bold" fill="#000" text-anchor="start" >30</text>
<text x="1735.00" y="1208.67" font-size="45.83" font-weight="bold" fill="#000" text-anchor="start" >40</text>
<text x="1735.00" y="1086.13" font-size="45.83" font-weight="bold" fill="#000" text-anchor="start" >50</text>
<text x="1735.00" y="963.60" font-size="45.83" font-weight="bold" fill="#000" text-anchor="start" >60</text>
<text x="1388.40" y="1794.20" font-size="50" font-weight="bold" fill="#262626" text-anchor="middle" >R <tspan stroke="#262626" stroke-width="1.3">/</tspan>Bohr</text>
<text transform="translate(998.5,1314.6) rotate(-90)" font-size="50" font-weight="bold" fill="#000" text-anchor="middle">Energy <tspan stroke="#000" stroke-width="1.3">/</tspan>eV</text>
<text transform="translate(1848.6,1314.6) rotate(-90)" font-size="50" font-weight="bold" fill="#000" text-anchor="middle">NAC <tspan stroke="#000" stroke-width="1.3">/</tspan>A<tspan font-size="40" dy="-26">-1</tspan></text>
<text x="1610.20" y="1460.40" font-size="68" font-weight="bold" fill="#000" text-anchor="start" >(d)</text>
<text transform="translate(1278.02 1081.50) scale(0.8 1)" font-size="36" font-weight="bold" fill="#000" stroke="#000" stroke-width="1.5" stroke-linejoin="miter">&lt;</text>
<text x="1295.52" y="1080.50" font-size="36" font-weight="bold" fill="#000">1</text>
<text x="1312.48" y="1063.20" font-size="28" font-weight="bold" fill="#000">5</text>
<text transform="translate(1327.49 1080.50) scale(1.18 1)" font-size="36" font-weight="normal" fill="#000" stroke="#000" stroke-width="0.5" stroke-linejoin="miter">Σ</text>
<text x="1352.12" y="1066.50" font-size="30" font-weight="bold" fill="#000" stroke="#000" stroke-width="0.6" stroke-linejoin="miter">+</text>
<text x="1352.98" y="1097.30" font-size="28" font-weight="bold" fill="#000">u</text>
<text x="1368.49" y="1080.50" font-size="36" font-weight="bold" fill="#000" stroke="#000" stroke-width="1.0" stroke-linejoin="miter">|</text>
<text transform="translate(1378.14 1080.50) scale(1.18 1)" font-size="36" font-weight="normal" font-style="italic" fill="#000" stroke="#000" stroke-width="1.1" stroke-linejoin="miter">∂</text>
<text x="1397.55" y="1080.50" font-size="36" font-weight="bold" fill="#000" stroke="#000" stroke-width="1.0" stroke-linejoin="miter">/</text>
<text transform="translate(1408.24 1080.50) scale(1.18 1)" font-size="36" font-weight="normal" font-style="italic" fill="#000" stroke="#000" stroke-width="1.1" stroke-linejoin="miter">∂</text>
<text transform="translate(1427.48 1080.50) scale(0.93 1)" font-size="36" font-weight="bold" fill="#000" stroke="#000" stroke-width="0.5" stroke-linejoin="miter">R</text>
<text x="1451.19" y="1080.50" font-size="36" font-weight="bold" fill="#000" stroke="#000" stroke-width="1.0" stroke-linejoin="miter">|</text>
<text x="1457.49" y="1080.50" font-size="36" font-weight="bold" fill="#000">2</text>
<text x="1476.48" y="1063.20" font-size="28" font-weight="bold" fill="#000">5</text>
<text transform="translate(1491.29 1080.50) scale(1.18 1)" font-size="36" font-weight="normal" fill="#000" stroke="#000" stroke-width="0.5" stroke-linejoin="miter">Σ</text>
<text x="1516.02" y="1066.50" font-size="30" font-weight="bold" fill="#000" stroke="#000" stroke-width="0.6" stroke-linejoin="miter">+</text>
<text x="1516.88" y="1097.30" font-size="28" font-weight="bold" fill="#000">u</text>
<text transform="translate(1533.49 1081.50) scale(0.8 1)" font-size="36" font-weight="bold" fill="#000" stroke="#000" stroke-width="1.5" stroke-linejoin="miter">&gt;</text>
<text x="1497.49" y="1275.20" font-size="36" font-weight="bold" fill="#0000ff">2</text>
<text x="1514.88" y="1257.90" font-size="28" font-weight="bold" fill="#0000ff">5</text>
<text transform="translate(1529.99 1275.20) scale(1.18 1)" font-size="36" font-weight="normal" fill="#0000ff" stroke="#0000ff" stroke-width="0.5" stroke-linejoin="miter">Σ</text>
<text x="1555.12" y="1261.20" font-size="30" font-weight="bold" fill="#0000ff" stroke="#0000ff" stroke-width="0.6" stroke-linejoin="miter">+</text>
<text x="1555.98" y="1292.00" font-size="28" font-weight="bold" fill="#0000ff">u</text>
<text x="1497.52" y="1617.80" font-size="36" font-weight="bold" fill="#ff0000">1</text>
<text x="1514.88" y="1600.50" font-size="28" font-weight="bold" fill="#ff0000">5</text>
<text transform="translate(1529.99 1617.80) scale(1.18 1)" font-size="36" font-weight="normal" fill="#ff0000" stroke="#ff0000" stroke-width="0.5" stroke-linejoin="miter">Σ</text>
<text x="1555.12" y="1603.80" font-size="30" font-weight="bold" fill="#ff0000" stroke="#ff0000" stroke-width="0.6" stroke-linejoin="miter">+</text>
<text x="1555.98" y="1634.60" font-size="28" font-weight="bold" fill="#ff0000">u</text>
</svg>
</body></html>
